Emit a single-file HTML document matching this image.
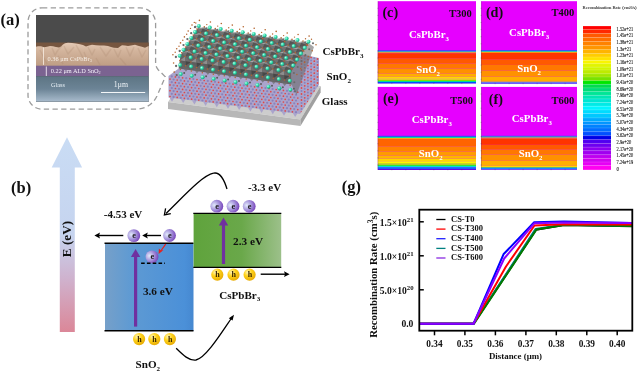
<!DOCTYPE html>
<html><head><meta charset="utf-8"><title>Figure</title>
<style>
html,body{margin:0;padding:0;background:#fff;}
body{width:637px;height:371px;overflow:hidden;position:relative;}
svg{position:absolute;left:0;top:0;display:block;}
text{font-family:'Liberation Serif','Times New Roman',serif;}
.b{font-weight:bold;}
</style></head><body>
<svg width="637" height="371" viewBox="0 0 637 371">
<defs>
<linearGradient id="gGlass" x1="0" y1="0" x2="0" y2="1">
 <stop offset="0" stop-color="#5d7584"/><stop offset="0.5" stop-color="#6c8496"/><stop offset="1" stop-color="#a9bccd"/>
</linearGradient>
<linearGradient id="gTan" x1="0" y1="0" x2="0" y2="1">
 <stop offset="0" stop-color="#e4cab6"/><stop offset="0.35" stop-color="#d3b49c"/><stop offset="1" stop-color="#be9d84"/>
</linearGradient>
<linearGradient id="gE" x1="0" y1="0" x2="0" y2="1">
 <stop offset="0" stop-color="#c9dcf4"/><stop offset="0.5" stop-color="#c6d4ef"/><stop offset="0.72" stop-color="#cfb3cf"/><stop offset="1" stop-color="#db8798"/>
</linearGradient>
<linearGradient id="gSn" x1="0" y1="0" x2="1" y2="0">
 <stop offset="0" stop-color="#76a0c9"/><stop offset="0.3" stop-color="#5e9ad3"/><stop offset="0.9" stop-color="#4b90d8"/><stop offset="1" stop-color="#4688d0"/>
</linearGradient>
<linearGradient id="gCs" x1="0" y1="0" x2="1" y2="0">
 <stop offset="0" stop-color="#5fa33c"/><stop offset="0.55" stop-color="#6aa84a"/><stop offset="1" stop-color="#9cc08a"/>
</linearGradient>
<radialGradient id="gEl" cx="0.3" cy="0.42" r="0.8">
 <stop offset="0" stop-color="#e2ebfb"/><stop offset="0.45" stop-color="#a796dc"/><stop offset="1" stop-color="#6b2fb2"/>
</radialGradient>
<radialGradient id="gHo" cx="0.35" cy="0.3" r="0.8">
 <stop offset="0" stop-color="#fff6b8"/><stop offset="0.4" stop-color="#ffd21a"/><stop offset="1" stop-color="#e3a400"/>
</radialGradient>
<radialGradient id="gCy" cx="0.35" cy="0.35" r="0.7">
 <stop offset="0" stop-color="#b8ffe8"/><stop offset="0.5" stop-color="#35dcae"/><stop offset="1" stop-color="#0f9e78"/>
</radialGradient>
<marker id="ah" markerWidth="6" markerHeight="6" refX="5" refY="3" orient="auto" markerUnits="userSpaceOnUse">
 <path d="M0,0 L6,3 L0,6 L1.5,3 Z" fill="#000"/>
</marker>
</defs>

<text class="b" x="0.6" y="24.8" font-size="16.5" fill="#111">(a)</text>
<g id="sem">
<rect x="36" y="15" width="112.7" height="87" fill="#4b4b4b"/>
<rect x="36" y="42.5" width="112.7" height="6" fill="#765640"/>
<path d="M36,66 L36,46.8 L38,46.2 L41,46.3 L44,47.2 L47,46.8 L50,46.0 L53,46.3 L56,47.0 L59,47.6 L61,46.5 L63,44.5 L65,43.2 L68,42.7 L72,43.0 L76,43.6 L80,44.2 L83,45.0 L86,46.6 L89,45.6 L92,44.8 L96,45.2 L100,45.5 L104,45.6 L108,46.0 L111,47.0 L114,47.8 L118,48.0 L120,46.5 L122,45.3 L125,45.5 L128,46.0 L131,45.4 L135,44.8 L138,45.8 L141,46.5 L145,47.8 L147,46.8 L148.7,46.0 L148.7,66 Z" fill="url(#gTan)"/>
<path d="M40,50 L44,58 L47,64" fill="none" stroke="#a07c62" stroke-opacity="0.2" stroke-width="1.5" stroke-linejoin="round"/>
<path d="M52,48 L55,55 L58,50 L62,46" fill="none" stroke="#a07c62" stroke-opacity="0.2" stroke-width="1.5" stroke-linejoin="round"/>
<path d="M64,46 L68,54 L74,47" fill="none" stroke="#a07c62" stroke-opacity="0.2" stroke-width="1.5" stroke-linejoin="round"/>
<path d="M76,45 L80,52 L84,60" fill="none" stroke="#a07c62" stroke-opacity="0.2" stroke-width="1.5" stroke-linejoin="round"/>
<path d="M88,47 L92,55 L95,49" fill="none" stroke="#a07c62" stroke-opacity="0.2" stroke-width="1.5" stroke-linejoin="round"/>
<path d="M100,47 L106,56 L111,49" fill="none" stroke="#a07c62" stroke-opacity="0.2" stroke-width="1.5" stroke-linejoin="round"/>
<path d="M114,49 L118,57 L121,50" fill="none" stroke="#a07c62" stroke-opacity="0.2" stroke-width="1.5" stroke-linejoin="round"/>
<path d="M126,47 L130,56 L134,47" fill="none" stroke="#a07c62" stroke-opacity="0.2" stroke-width="1.5" stroke-linejoin="round"/>
<path d="M138,48 L142,57 L146,50" fill="none" stroke="#a07c62" stroke-opacity="0.2" stroke-width="1.5" stroke-linejoin="round"/>
<path d="M58,56 L63,64" fill="none" stroke="#a07c62" stroke-opacity="0.2" stroke-width="1.5" stroke-linejoin="round"/>
<path d="M96,58 L100,65" fill="none" stroke="#a07c62" stroke-opacity="0.2" stroke-width="1.5" stroke-linejoin="round"/>
<path d="M120,58 L126,65" fill="none" stroke="#a07c62" stroke-opacity="0.2" stroke-width="1.5" stroke-linejoin="round"/>
<path d="M84,52 L88,62" fill="none" stroke="#a07c62" stroke-opacity="0.2" stroke-width="1.5" stroke-linejoin="round"/>
<rect x="36" y="65.7" width="112.7" height="10.6" fill="#7b6391"/>
<rect x="36" y="76.3" width="112.7" height="25.4" fill="url(#gGlass)"/>
<line x1="43.5" y1="47.4" x2="43.5" y2="64.9" stroke="#f3e7da" stroke-width="0.9"/>
<line x1="46.3" y1="66.5" x2="46.3" y2="76" stroke="#efe8f4" stroke-width="0.9"/>
<text x="47.6" y="61.1" font-size="6.3" fill="#f6eee6">0.36 μm CsPbBr<tspan font-size="4.2" dy="1">3</tspan></text>
<text x="50.8" y="73.4" font-size="6.3" fill="#f3eef8">0.22 μm ALD SnO<tspan font-size="4.2" dy="1">2</tspan></text>
<text x="51" y="87.2" font-size="6.3" fill="#e8f0f6">Glass</text>
<text x="113.8" y="87.4" font-size="7.8" fill="#eef3f7">1μm</text>
<line x1="101" y1="92.5" x2="145.2" y2="92.5" stroke="#f4f6f8" stroke-width="1"/>
</g>
<path d="M42,7.8 L140,7.8 A15.6,15.6 0 0 1 155.6,23.4 L155.6,64 Q156,67 158,69.5 L165.3,76.8 L157,96 Q153,104 146,107 Q141,109.2 136,109.2 L42,109.2 A14,14 0 0 1 28,95.2 L28,21.8 A14,14 0 0 1 42,7.8 Z" fill="none" stroke="#9c9c9c" stroke-width="1.3" stroke-dasharray="5.3 3.4"/>
<g id="crystal">
<polygon points="168,102 300.5,119.5 320.6,86 189,70" fill="#cdcdcd"/>
<polygon points="168,102 300.5,119.5 300.5,126 168,109" fill="#b7b7b7"/>
<polygon points="300.5,119.5 320.6,86 320.6,92.4 300.5,126" fill="#a0a0a0"/>
<polygon points="168.5,76 178.6,68.6 250,50 305,55 319,58 319,84.5 300,114 168.5,97.5" fill="#aaa4cc"/>
<polygon points="169.4,97.4 174.6,97.4 172.0,101.7" fill="#aaa4cc"/>
<polygon points="180.6,98.8 185.8,98.8 183.2,103.1" fill="#aaa4cc"/>
<polygon points="191.8,100.2 197.0,100.2 194.4,104.5" fill="#aaa4cc"/>
<polygon points="203.0,101.6 208.2,101.6 205.6,105.9" fill="#aaa4cc"/>
<polygon points="214.2,103.0 219.4,103.0 216.8,107.3" fill="#aaa4cc"/>
<polygon points="225.4,104.4 230.6,104.4 228.0,108.7" fill="#aaa4cc"/>
<polygon points="236.6,105.8 241.8,105.8 239.2,110.1" fill="#aaa4cc"/>
<polygon points="247.8,107.2 253.0,107.2 250.4,111.5" fill="#aaa4cc"/>
<polygon points="259.0,108.6 264.2,108.6 261.6,112.9" fill="#aaa4cc"/>
<polygon points="270.2,110.0 275.4,110.0 272.8,114.3" fill="#aaa4cc"/>
<polygon points="281.4,111.4 286.6,111.4 284.0,115.7" fill="#aaa4cc"/>
<polygon points="292.6,112.8 297.8,112.8 295.2,117.1" fill="#aaa4cc"/>
<circle cx="170.0" cy="96.5" r="0.85" fill="#e04848"/>
<circle cx="173.6" cy="96.9" r="1.1" fill="#8a82bd"/>
<circle cx="177.2" cy="97.4" r="0.85" fill="#e04848"/>
<circle cx="180.8" cy="97.8" r="1.1" fill="#8a82bd"/>
<circle cx="184.4" cy="98.3" r="0.85" fill="#e04848"/>
<circle cx="188.0" cy="98.7" r="1.1" fill="#8a82bd"/>
<circle cx="191.6" cy="99.2" r="0.85" fill="#e04848"/>
<circle cx="195.2" cy="99.6" r="1.1" fill="#8a82bd"/>
<circle cx="198.8" cy="100.1" r="0.85" fill="#e04848"/>
<circle cx="202.4" cy="100.5" r="1.1" fill="#8a82bd"/>
<circle cx="206.0" cy="101.0" r="0.85" fill="#e04848"/>
<circle cx="209.6" cy="101.4" r="1.1" fill="#8a82bd"/>
<circle cx="213.2" cy="101.9" r="0.85" fill="#e04848"/>
<circle cx="216.8" cy="102.3" r="1.1" fill="#8a82bd"/>
<circle cx="220.4" cy="102.8" r="0.85" fill="#e04848"/>
<circle cx="224.0" cy="103.2" r="1.1" fill="#8a82bd"/>
<circle cx="227.6" cy="103.7" r="0.85" fill="#e04848"/>
<circle cx="231.2" cy="104.1" r="1.1" fill="#8a82bd"/>
<circle cx="234.8" cy="104.6" r="0.85" fill="#e04848"/>
<circle cx="238.4" cy="105.0" r="1.1" fill="#8a82bd"/>
<circle cx="242.0" cy="105.5" r="0.85" fill="#e04848"/>
<circle cx="245.6" cy="105.9" r="1.1" fill="#8a82bd"/>
<circle cx="249.2" cy="106.4" r="0.85" fill="#e04848"/>
<circle cx="252.8" cy="106.8" r="1.1" fill="#8a82bd"/>
<circle cx="256.4" cy="107.3" r="0.85" fill="#e04848"/>
<circle cx="260.0" cy="107.7" r="1.1" fill="#8a82bd"/>
<circle cx="263.6" cy="108.2" r="0.85" fill="#e04848"/>
<circle cx="267.2" cy="108.6" r="1.1" fill="#8a82bd"/>
<circle cx="270.8" cy="109.1" r="0.85" fill="#e04848"/>
<circle cx="274.4" cy="109.5" r="1.1" fill="#8a82bd"/>
<circle cx="278.0" cy="110.0" r="0.85" fill="#e04848"/>
<circle cx="281.6" cy="110.4" r="1.1" fill="#8a82bd"/>
<circle cx="285.2" cy="110.9" r="0.85" fill="#e04848"/>
<circle cx="288.8" cy="111.3" r="1.1" fill="#8a82bd"/>
<circle cx="292.4" cy="111.8" r="0.85" fill="#e04848"/>
<circle cx="296.0" cy="112.2" r="1.1" fill="#8a82bd"/>
<circle cx="171.8" cy="93.8" r="1.1" fill="#8a82bd"/>
<circle cx="175.4" cy="94.3" r="0.85" fill="#e04848"/>
<circle cx="179.0" cy="94.7" r="1.1" fill="#8a82bd"/>
<circle cx="182.6" cy="95.2" r="0.85" fill="#e04848"/>
<circle cx="186.2" cy="95.6" r="1.1" fill="#8a82bd"/>
<circle cx="189.8" cy="96.1" r="0.85" fill="#e04848"/>
<circle cx="193.4" cy="96.5" r="1.1" fill="#8a82bd"/>
<circle cx="197.0" cy="97.0" r="0.85" fill="#e04848"/>
<circle cx="200.6" cy="97.4" r="1.1" fill="#8a82bd"/>
<circle cx="204.2" cy="97.9" r="0.85" fill="#e04848"/>
<circle cx="207.8" cy="98.3" r="1.1" fill="#8a82bd"/>
<circle cx="211.4" cy="98.8" r="0.85" fill="#e04848"/>
<circle cx="215.0" cy="99.2" r="1.1" fill="#8a82bd"/>
<circle cx="218.6" cy="99.7" r="0.85" fill="#e04848"/>
<circle cx="222.2" cy="100.1" r="1.1" fill="#8a82bd"/>
<circle cx="225.8" cy="100.6" r="0.85" fill="#e04848"/>
<circle cx="229.4" cy="101.0" r="1.1" fill="#8a82bd"/>
<circle cx="233.0" cy="101.5" r="0.85" fill="#e04848"/>
<circle cx="236.6" cy="101.9" r="1.1" fill="#8a82bd"/>
<circle cx="240.2" cy="102.4" r="0.85" fill="#e04848"/>
<circle cx="243.8" cy="102.8" r="1.1" fill="#8a82bd"/>
<circle cx="247.4" cy="103.3" r="0.85" fill="#e04848"/>
<circle cx="251.0" cy="103.7" r="1.1" fill="#8a82bd"/>
<circle cx="254.6" cy="104.2" r="0.85" fill="#e04848"/>
<circle cx="258.2" cy="104.6" r="1.1" fill="#8a82bd"/>
<circle cx="261.8" cy="105.1" r="0.85" fill="#e04848"/>
<circle cx="265.4" cy="105.5" r="1.1" fill="#8a82bd"/>
<circle cx="269.0" cy="106.0" r="0.85" fill="#e04848"/>
<circle cx="272.6" cy="106.4" r="1.1" fill="#8a82bd"/>
<circle cx="276.2" cy="106.9" r="0.85" fill="#e04848"/>
<circle cx="279.8" cy="107.3" r="1.1" fill="#8a82bd"/>
<circle cx="283.4" cy="107.8" r="0.85" fill="#e04848"/>
<circle cx="287.0" cy="108.2" r="1.1" fill="#8a82bd"/>
<circle cx="290.6" cy="108.7" r="0.85" fill="#e04848"/>
<circle cx="294.2" cy="109.1" r="1.1" fill="#8a82bd"/>
<circle cx="297.8" cy="109.6" r="0.85" fill="#e04848"/>
<circle cx="170.0" cy="90.7" r="0.85" fill="#e04848"/>
<circle cx="173.6" cy="91.1" r="1.1" fill="#8a82bd"/>
<circle cx="177.2" cy="91.6" r="0.85" fill="#e04848"/>
<circle cx="180.8" cy="92.0" r="1.1" fill="#8a82bd"/>
<circle cx="184.4" cy="92.5" r="0.85" fill="#e04848"/>
<circle cx="188.0" cy="92.9" r="1.1" fill="#8a82bd"/>
<circle cx="191.6" cy="93.4" r="0.85" fill="#e04848"/>
<circle cx="195.2" cy="93.8" r="1.1" fill="#8a82bd"/>
<circle cx="198.8" cy="94.3" r="0.85" fill="#e04848"/>
<circle cx="202.4" cy="94.7" r="1.1" fill="#8a82bd"/>
<circle cx="206.0" cy="95.2" r="0.85" fill="#e04848"/>
<circle cx="209.6" cy="95.6" r="1.1" fill="#8a82bd"/>
<circle cx="213.2" cy="96.1" r="0.85" fill="#e04848"/>
<circle cx="216.8" cy="96.5" r="1.1" fill="#8a82bd"/>
<circle cx="220.4" cy="97.0" r="0.85" fill="#e04848"/>
<circle cx="224.0" cy="97.4" r="1.1" fill="#8a82bd"/>
<circle cx="227.6" cy="97.9" r="0.85" fill="#e04848"/>
<circle cx="231.2" cy="98.3" r="1.1" fill="#8a82bd"/>
<circle cx="234.8" cy="98.8" r="0.85" fill="#e04848"/>
<circle cx="238.4" cy="99.2" r="1.1" fill="#8a82bd"/>
<circle cx="242.0" cy="99.7" r="0.85" fill="#e04848"/>
<circle cx="245.6" cy="100.1" r="1.1" fill="#8a82bd"/>
<circle cx="249.2" cy="100.6" r="0.85" fill="#e04848"/>
<circle cx="252.8" cy="101.0" r="1.1" fill="#8a82bd"/>
<circle cx="256.4" cy="101.5" r="0.85" fill="#e04848"/>
<circle cx="260.0" cy="101.9" r="1.1" fill="#8a82bd"/>
<circle cx="263.6" cy="102.4" r="0.85" fill="#e04848"/>
<circle cx="267.2" cy="102.8" r="1.1" fill="#8a82bd"/>
<circle cx="270.8" cy="103.3" r="0.85" fill="#e04848"/>
<circle cx="274.4" cy="103.7" r="1.1" fill="#8a82bd"/>
<circle cx="278.0" cy="104.2" r="0.85" fill="#e04848"/>
<circle cx="281.6" cy="104.6" r="1.1" fill="#8a82bd"/>
<circle cx="285.2" cy="105.1" r="0.85" fill="#e04848"/>
<circle cx="288.8" cy="105.5" r="1.1" fill="#8a82bd"/>
<circle cx="292.4" cy="106.0" r="0.85" fill="#e04848"/>
<circle cx="296.0" cy="106.4" r="1.1" fill="#8a82bd"/>
<circle cx="171.8" cy="88.0" r="1.1" fill="#8a82bd"/>
<circle cx="175.4" cy="88.5" r="0.85" fill="#e04848"/>
<circle cx="179.0" cy="88.9" r="1.1" fill="#8a82bd"/>
<circle cx="182.6" cy="89.4" r="0.85" fill="#e04848"/>
<circle cx="186.2" cy="89.8" r="1.1" fill="#8a82bd"/>
<circle cx="189.8" cy="90.3" r="0.85" fill="#e04848"/>
<circle cx="193.4" cy="90.7" r="1.1" fill="#8a82bd"/>
<circle cx="197.0" cy="91.2" r="0.85" fill="#e04848"/>
<circle cx="200.6" cy="91.6" r="1.1" fill="#8a82bd"/>
<circle cx="204.2" cy="92.1" r="0.85" fill="#e04848"/>
<circle cx="207.8" cy="92.5" r="1.1" fill="#8a82bd"/>
<circle cx="211.4" cy="93.0" r="0.85" fill="#e04848"/>
<circle cx="215.0" cy="93.4" r="1.1" fill="#8a82bd"/>
<circle cx="218.6" cy="93.9" r="0.85" fill="#e04848"/>
<circle cx="222.2" cy="94.3" r="1.1" fill="#8a82bd"/>
<circle cx="225.8" cy="94.8" r="0.85" fill="#e04848"/>
<circle cx="229.4" cy="95.2" r="1.1" fill="#8a82bd"/>
<circle cx="233.0" cy="95.7" r="0.85" fill="#e04848"/>
<circle cx="236.6" cy="96.1" r="1.1" fill="#8a82bd"/>
<circle cx="240.2" cy="96.6" r="0.85" fill="#e04848"/>
<circle cx="243.8" cy="97.0" r="1.1" fill="#8a82bd"/>
<circle cx="247.4" cy="97.5" r="0.85" fill="#e04848"/>
<circle cx="251.0" cy="97.9" r="1.1" fill="#8a82bd"/>
<circle cx="254.6" cy="98.4" r="0.85" fill="#e04848"/>
<circle cx="258.2" cy="98.8" r="1.1" fill="#8a82bd"/>
<circle cx="261.8" cy="99.3" r="0.85" fill="#e04848"/>
<circle cx="265.4" cy="99.7" r="1.1" fill="#8a82bd"/>
<circle cx="269.0" cy="100.2" r="0.85" fill="#e04848"/>
<circle cx="272.6" cy="100.6" r="1.1" fill="#8a82bd"/>
<circle cx="276.2" cy="101.1" r="0.85" fill="#e04848"/>
<circle cx="279.8" cy="101.5" r="1.1" fill="#8a82bd"/>
<circle cx="283.4" cy="102.0" r="0.85" fill="#e04848"/>
<circle cx="287.0" cy="102.4" r="1.1" fill="#8a82bd"/>
<circle cx="290.6" cy="102.9" r="0.85" fill="#e04848"/>
<circle cx="294.2" cy="103.3" r="1.1" fill="#8a82bd"/>
<circle cx="297.8" cy="103.8" r="0.85" fill="#e04848"/>
<circle cx="170.0" cy="84.9" r="0.85" fill="#e04848"/>
<circle cx="173.6" cy="85.3" r="1.1" fill="#8a82bd"/>
<circle cx="177.2" cy="85.8" r="0.85" fill="#e04848"/>
<circle cx="180.8" cy="86.2" r="1.1" fill="#8a82bd"/>
<circle cx="184.4" cy="86.7" r="0.85" fill="#e04848"/>
<circle cx="188.0" cy="87.1" r="1.1" fill="#8a82bd"/>
<circle cx="191.6" cy="87.6" r="0.85" fill="#e04848"/>
<circle cx="195.2" cy="88.0" r="1.1" fill="#8a82bd"/>
<circle cx="198.8" cy="88.5" r="0.85" fill="#e04848"/>
<circle cx="202.4" cy="88.9" r="1.1" fill="#8a82bd"/>
<circle cx="206.0" cy="89.4" r="0.85" fill="#e04848"/>
<circle cx="209.6" cy="89.8" r="1.1" fill="#8a82bd"/>
<circle cx="213.2" cy="90.3" r="0.85" fill="#e04848"/>
<circle cx="216.8" cy="90.7" r="1.1" fill="#8a82bd"/>
<circle cx="220.4" cy="91.2" r="0.85" fill="#e04848"/>
<circle cx="224.0" cy="91.6" r="1.1" fill="#8a82bd"/>
<circle cx="227.6" cy="92.1" r="0.85" fill="#e04848"/>
<circle cx="231.2" cy="92.5" r="1.1" fill="#8a82bd"/>
<circle cx="234.8" cy="93.0" r="0.85" fill="#e04848"/>
<circle cx="238.4" cy="93.4" r="1.1" fill="#8a82bd"/>
<circle cx="242.0" cy="93.9" r="0.85" fill="#e04848"/>
<circle cx="245.6" cy="94.3" r="1.1" fill="#8a82bd"/>
<circle cx="249.2" cy="94.8" r="0.85" fill="#e04848"/>
<circle cx="252.8" cy="95.2" r="1.1" fill="#8a82bd"/>
<circle cx="256.4" cy="95.7" r="0.85" fill="#e04848"/>
<circle cx="260.0" cy="96.1" r="1.1" fill="#8a82bd"/>
<circle cx="263.6" cy="96.6" r="0.85" fill="#e04848"/>
<circle cx="267.2" cy="97.0" r="1.1" fill="#8a82bd"/>
<circle cx="270.8" cy="97.5" r="0.85" fill="#e04848"/>
<circle cx="274.4" cy="97.9" r="1.1" fill="#8a82bd"/>
<circle cx="278.0" cy="98.4" r="0.85" fill="#e04848"/>
<circle cx="281.6" cy="98.8" r="1.1" fill="#8a82bd"/>
<circle cx="285.2" cy="99.3" r="0.85" fill="#e04848"/>
<circle cx="288.8" cy="99.7" r="1.1" fill="#8a82bd"/>
<circle cx="292.4" cy="100.2" r="0.85" fill="#e04848"/>
<circle cx="296.0" cy="100.6" r="1.1" fill="#8a82bd"/>
<circle cx="171.8" cy="82.2" r="1.1" fill="#8a82bd"/>
<circle cx="175.4" cy="82.7" r="0.85" fill="#e04848"/>
<circle cx="179.0" cy="83.1" r="1.1" fill="#8a82bd"/>
<circle cx="182.6" cy="83.6" r="0.85" fill="#e04848"/>
<circle cx="186.2" cy="84.0" r="1.1" fill="#8a82bd"/>
<circle cx="189.8" cy="84.5" r="0.85" fill="#e04848"/>
<circle cx="193.4" cy="84.9" r="1.1" fill="#8a82bd"/>
<circle cx="197.0" cy="85.4" r="0.85" fill="#e04848"/>
<circle cx="200.6" cy="85.8" r="1.1" fill="#8a82bd"/>
<circle cx="204.2" cy="86.3" r="0.85" fill="#e04848"/>
<circle cx="207.8" cy="86.7" r="1.1" fill="#8a82bd"/>
<circle cx="211.4" cy="87.2" r="0.85" fill="#e04848"/>
<circle cx="215.0" cy="87.6" r="1.1" fill="#8a82bd"/>
<circle cx="218.6" cy="88.1" r="0.85" fill="#e04848"/>
<circle cx="222.2" cy="88.5" r="1.1" fill="#8a82bd"/>
<circle cx="225.8" cy="89.0" r="0.85" fill="#e04848"/>
<circle cx="229.4" cy="89.4" r="1.1" fill="#8a82bd"/>
<circle cx="233.0" cy="89.9" r="0.85" fill="#e04848"/>
<circle cx="236.6" cy="90.3" r="1.1" fill="#8a82bd"/>
<circle cx="240.2" cy="90.8" r="0.85" fill="#e04848"/>
<circle cx="243.8" cy="91.2" r="1.1" fill="#8a82bd"/>
<circle cx="247.4" cy="91.7" r="0.85" fill="#e04848"/>
<circle cx="251.0" cy="92.1" r="1.1" fill="#8a82bd"/>
<circle cx="254.6" cy="92.6" r="0.85" fill="#e04848"/>
<circle cx="258.2" cy="93.0" r="1.1" fill="#8a82bd"/>
<circle cx="261.8" cy="93.5" r="0.85" fill="#e04848"/>
<circle cx="265.4" cy="93.9" r="1.1" fill="#8a82bd"/>
<circle cx="269.0" cy="94.4" r="0.85" fill="#e04848"/>
<circle cx="272.6" cy="94.8" r="1.1" fill="#8a82bd"/>
<circle cx="276.2" cy="95.3" r="0.85" fill="#e04848"/>
<circle cx="279.8" cy="95.7" r="1.1" fill="#8a82bd"/>
<circle cx="283.4" cy="96.2" r="0.85" fill="#e04848"/>
<circle cx="287.0" cy="96.6" r="1.1" fill="#8a82bd"/>
<circle cx="290.6" cy="97.1" r="0.85" fill="#e04848"/>
<circle cx="294.2" cy="97.5" r="1.1" fill="#8a82bd"/>
<circle cx="297.8" cy="98.0" r="0.85" fill="#e04848"/>
<circle cx="170.0" cy="79.1" r="0.85" fill="#e04848"/>
<circle cx="173.6" cy="79.5" r="1.1" fill="#8a82bd"/>
<circle cx="177.2" cy="80.0" r="0.85" fill="#e04848"/>
<circle cx="180.8" cy="80.4" r="1.1" fill="#8a82bd"/>
<circle cx="184.4" cy="80.9" r="0.85" fill="#e04848"/>
<circle cx="188.0" cy="81.3" r="1.1" fill="#8a82bd"/>
<circle cx="191.6" cy="81.8" r="0.85" fill="#e04848"/>
<circle cx="195.2" cy="82.2" r="1.1" fill="#8a82bd"/>
<circle cx="198.8" cy="82.7" r="0.85" fill="#e04848"/>
<circle cx="202.4" cy="83.1" r="1.1" fill="#8a82bd"/>
<circle cx="206.0" cy="83.6" r="0.85" fill="#e04848"/>
<circle cx="209.6" cy="84.0" r="1.1" fill="#8a82bd"/>
<circle cx="213.2" cy="84.5" r="0.85" fill="#e04848"/>
<circle cx="216.8" cy="84.9" r="1.1" fill="#8a82bd"/>
<circle cx="220.4" cy="85.4" r="0.85" fill="#e04848"/>
<circle cx="224.0" cy="85.8" r="1.1" fill="#8a82bd"/>
<circle cx="227.6" cy="86.3" r="0.85" fill="#e04848"/>
<circle cx="231.2" cy="86.7" r="1.1" fill="#8a82bd"/>
<circle cx="234.8" cy="87.2" r="0.85" fill="#e04848"/>
<circle cx="238.4" cy="87.6" r="1.1" fill="#8a82bd"/>
<circle cx="242.0" cy="88.1" r="0.85" fill="#e04848"/>
<circle cx="245.6" cy="88.5" r="1.1" fill="#8a82bd"/>
<circle cx="249.2" cy="89.0" r="0.85" fill="#e04848"/>
<circle cx="252.8" cy="89.4" r="1.1" fill="#8a82bd"/>
<circle cx="256.4" cy="89.9" r="0.85" fill="#e04848"/>
<circle cx="260.0" cy="90.3" r="1.1" fill="#8a82bd"/>
<circle cx="263.6" cy="90.8" r="0.85" fill="#e04848"/>
<circle cx="267.2" cy="91.2" r="1.1" fill="#8a82bd"/>
<circle cx="270.8" cy="91.7" r="0.85" fill="#e04848"/>
<circle cx="274.4" cy="92.1" r="1.1" fill="#8a82bd"/>
<circle cx="278.0" cy="92.6" r="0.85" fill="#e04848"/>
<circle cx="281.6" cy="93.0" r="1.1" fill="#8a82bd"/>
<circle cx="285.2" cy="93.5" r="0.85" fill="#e04848"/>
<circle cx="288.8" cy="93.9" r="1.1" fill="#8a82bd"/>
<circle cx="292.4" cy="94.4" r="0.85" fill="#e04848"/>
<circle cx="296.0" cy="94.8" r="1.1" fill="#8a82bd"/>
<circle cx="171.8" cy="76.4" r="1.1" fill="#8a82bd"/>
<circle cx="175.4" cy="76.9" r="0.85" fill="#e04848"/>
<circle cx="179.0" cy="77.3" r="1.1" fill="#8a82bd"/>
<circle cx="182.6" cy="77.8" r="0.85" fill="#e04848"/>
<circle cx="186.2" cy="78.2" r="1.1" fill="#8a82bd"/>
<circle cx="189.8" cy="78.7" r="0.85" fill="#e04848"/>
<circle cx="193.4" cy="79.1" r="1.1" fill="#8a82bd"/>
<circle cx="197.0" cy="79.6" r="0.85" fill="#e04848"/>
<circle cx="200.6" cy="80.0" r="1.1" fill="#8a82bd"/>
<circle cx="204.2" cy="80.5" r="0.85" fill="#e04848"/>
<circle cx="207.8" cy="80.9" r="1.1" fill="#8a82bd"/>
<circle cx="211.4" cy="81.4" r="0.85" fill="#e04848"/>
<circle cx="215.0" cy="81.8" r="1.1" fill="#8a82bd"/>
<circle cx="218.6" cy="82.3" r="0.85" fill="#e04848"/>
<circle cx="222.2" cy="82.7" r="1.1" fill="#8a82bd"/>
<circle cx="225.8" cy="83.2" r="0.85" fill="#e04848"/>
<circle cx="229.4" cy="83.6" r="1.1" fill="#8a82bd"/>
<circle cx="233.0" cy="84.1" r="0.85" fill="#e04848"/>
<circle cx="236.6" cy="84.5" r="1.1" fill="#8a82bd"/>
<circle cx="240.2" cy="85.0" r="0.85" fill="#e04848"/>
<circle cx="243.8" cy="85.4" r="1.1" fill="#8a82bd"/>
<circle cx="247.4" cy="85.9" r="0.85" fill="#e04848"/>
<circle cx="251.0" cy="86.3" r="1.1" fill="#8a82bd"/>
<circle cx="254.6" cy="86.8" r="0.85" fill="#e04848"/>
<circle cx="258.2" cy="87.2" r="1.1" fill="#8a82bd"/>
<circle cx="261.8" cy="87.7" r="0.85" fill="#e04848"/>
<circle cx="265.4" cy="88.1" r="1.1" fill="#8a82bd"/>
<circle cx="269.0" cy="88.6" r="0.85" fill="#e04848"/>
<circle cx="272.6" cy="89.0" r="1.1" fill="#8a82bd"/>
<circle cx="276.2" cy="89.5" r="0.85" fill="#e04848"/>
<circle cx="279.8" cy="89.9" r="1.1" fill="#8a82bd"/>
<circle cx="283.4" cy="90.4" r="0.85" fill="#e04848"/>
<circle cx="287.0" cy="90.8" r="1.1" fill="#8a82bd"/>
<circle cx="290.6" cy="91.3" r="0.85" fill="#e04848"/>
<circle cx="294.2" cy="91.7" r="1.1" fill="#8a82bd"/>
<circle cx="297.8" cy="92.2" r="0.85" fill="#e04848"/>
<clipPath id="snclip"><polygon points="168.5,76 178.6,68.6 250,50 305,55 319,58 319,84.5 300,114 168.5,97.5"/></clipPath>
<g clip-path="url(#snclip)">
<circle cx="301.5" cy="112.0" r="0.9" fill="#e04848"/>
<circle cx="304.7" cy="106.8" r="1.0" fill="#8a82bd"/>
<circle cx="307.9" cy="101.6" r="0.9" fill="#e04848"/>
<circle cx="311.1" cy="96.4" r="1.0" fill="#8a82bd"/>
<circle cx="314.3" cy="91.2" r="0.9" fill="#e04848"/>
<circle cx="317.5" cy="86.0" r="1.0" fill="#8a82bd"/>
<circle cx="301.5" cy="109.0" r="1.0" fill="#8a82bd"/>
<circle cx="304.7" cy="103.8" r="0.9" fill="#e04848"/>
<circle cx="307.9" cy="98.6" r="1.0" fill="#8a82bd"/>
<circle cx="311.1" cy="93.4" r="0.9" fill="#e04848"/>
<circle cx="314.3" cy="88.2" r="1.0" fill="#8a82bd"/>
<circle cx="317.5" cy="83.0" r="0.9" fill="#e04848"/>
<circle cx="301.5" cy="106.0" r="0.9" fill="#e04848"/>
<circle cx="304.7" cy="100.8" r="1.0" fill="#8a82bd"/>
<circle cx="307.9" cy="95.6" r="0.9" fill="#e04848"/>
<circle cx="311.1" cy="90.4" r="1.0" fill="#8a82bd"/>
<circle cx="314.3" cy="85.2" r="0.9" fill="#e04848"/>
<circle cx="317.5" cy="80.0" r="1.0" fill="#8a82bd"/>
<circle cx="301.5" cy="103.0" r="1.0" fill="#8a82bd"/>
<circle cx="304.7" cy="97.8" r="0.9" fill="#e04848"/>
<circle cx="307.9" cy="92.6" r="1.0" fill="#8a82bd"/>
<circle cx="311.1" cy="87.4" r="0.9" fill="#e04848"/>
<circle cx="314.3" cy="82.2" r="1.0" fill="#8a82bd"/>
<circle cx="317.5" cy="77.0" r="0.9" fill="#e04848"/>
<circle cx="301.5" cy="100.0" r="0.9" fill="#e04848"/>
<circle cx="304.7" cy="94.8" r="1.0" fill="#8a82bd"/>
<circle cx="307.9" cy="89.6" r="0.9" fill="#e04848"/>
<circle cx="311.1" cy="84.4" r="1.0" fill="#8a82bd"/>
<circle cx="314.3" cy="79.2" r="0.9" fill="#e04848"/>
<circle cx="317.5" cy="74.0" r="1.0" fill="#8a82bd"/>
<circle cx="301.5" cy="97.0" r="1.0" fill="#8a82bd"/>
<circle cx="304.7" cy="91.8" r="0.9" fill="#e04848"/>
<circle cx="307.9" cy="86.6" r="1.0" fill="#8a82bd"/>
<circle cx="311.1" cy="81.4" r="0.9" fill="#e04848"/>
<circle cx="314.3" cy="76.2" r="1.0" fill="#8a82bd"/>
<circle cx="317.5" cy="71.0" r="0.9" fill="#e04848"/>
<circle cx="301.5" cy="94.0" r="0.9" fill="#e04848"/>
<circle cx="304.7" cy="88.8" r="1.0" fill="#8a82bd"/>
<circle cx="307.9" cy="83.6" r="0.9" fill="#e04848"/>
<circle cx="311.1" cy="78.4" r="1.0" fill="#8a82bd"/>
<circle cx="314.3" cy="73.2" r="0.9" fill="#e04848"/>
<circle cx="317.5" cy="68.0" r="1.0" fill="#8a82bd"/>
<circle cx="301.5" cy="91.0" r="1.0" fill="#8a82bd"/>
<circle cx="304.7" cy="85.8" r="0.9" fill="#e04848"/>
<circle cx="307.9" cy="80.6" r="1.0" fill="#8a82bd"/>
<circle cx="311.1" cy="75.4" r="0.9" fill="#e04848"/>
<circle cx="314.3" cy="70.2" r="1.0" fill="#8a82bd"/>
<circle cx="317.5" cy="65.0" r="0.9" fill="#e04848"/>
<circle cx="301.5" cy="88.0" r="0.9" fill="#e04848"/>
<circle cx="304.7" cy="82.8" r="1.0" fill="#8a82bd"/>
<circle cx="307.9" cy="77.6" r="0.9" fill="#e04848"/>
<circle cx="311.1" cy="72.4" r="1.0" fill="#8a82bd"/>
<circle cx="314.3" cy="67.2" r="0.9" fill="#e04848"/>
<circle cx="317.5" cy="62.0" r="1.0" fill="#8a82bd"/>
<circle cx="301.5" cy="85.0" r="1.0" fill="#8a82bd"/>
<circle cx="304.7" cy="79.8" r="0.9" fill="#e04848"/>
<circle cx="307.9" cy="74.6" r="1.0" fill="#8a82bd"/>
<circle cx="311.1" cy="69.4" r="0.9" fill="#e04848"/>
<circle cx="314.3" cy="64.2" r="1.0" fill="#8a82bd"/>
<circle cx="317.5" cy="59.0" r="0.9" fill="#e04848"/>
<circle cx="301.5" cy="82.0" r="0.9" fill="#e04848"/>
<circle cx="304.7" cy="76.8" r="1.0" fill="#8a82bd"/>
<circle cx="307.9" cy="71.6" r="0.9" fill="#e04848"/>
<circle cx="311.1" cy="66.4" r="1.0" fill="#8a82bd"/>
<circle cx="314.3" cy="61.2" r="0.9" fill="#e04848"/>
<circle cx="317.5" cy="56.0" r="1.0" fill="#8a82bd"/>
<circle cx="301.5" cy="79.0" r="1.0" fill="#8a82bd"/>
<circle cx="304.7" cy="73.8" r="0.9" fill="#e04848"/>
<circle cx="307.9" cy="68.6" r="1.0" fill="#8a82bd"/>
<circle cx="311.1" cy="63.4" r="0.9" fill="#e04848"/>
<circle cx="314.3" cy="58.2" r="1.0" fill="#8a82bd"/>
<circle cx="317.5" cy="53.0" r="0.9" fill="#e04848"/>
<circle cx="301.5" cy="76.0" r="0.9" fill="#e04848"/>
<circle cx="304.7" cy="70.8" r="1.0" fill="#8a82bd"/>
<circle cx="307.9" cy="65.6" r="0.9" fill="#e04848"/>
<circle cx="311.1" cy="60.4" r="1.0" fill="#8a82bd"/>
<circle cx="314.3" cy="55.2" r="0.9" fill="#e04848"/>
<circle cx="301.5" cy="73.0" r="1.0" fill="#8a82bd"/>
<circle cx="304.7" cy="67.8" r="0.9" fill="#e04848"/>
<circle cx="307.9" cy="62.6" r="1.0" fill="#8a82bd"/>
<circle cx="311.1" cy="57.4" r="0.9" fill="#e04848"/>
<circle cx="314.3" cy="52.2" r="1.0" fill="#8a82bd"/>
<circle cx="301.5" cy="70.0" r="0.9" fill="#e04848"/>
<circle cx="304.7" cy="64.8" r="1.0" fill="#8a82bd"/>
<circle cx="307.9" cy="59.6" r="0.9" fill="#e04848"/>
<circle cx="311.1" cy="54.4" r="1.0" fill="#8a82bd"/>
<circle cx="301.5" cy="67.0" r="1.0" fill="#8a82bd"/>
<circle cx="304.7" cy="61.8" r="0.9" fill="#e04848"/>
<circle cx="307.9" cy="56.6" r="1.0" fill="#8a82bd"/>
<circle cx="301.5" cy="64.0" r="0.9" fill="#e04848"/>
<circle cx="304.7" cy="58.8" r="1.0" fill="#8a82bd"/>
<circle cx="307.9" cy="53.6" r="0.9" fill="#e04848"/>
<circle cx="301.5" cy="61.0" r="1.0" fill="#8a82bd"/>
<circle cx="304.7" cy="55.8" r="0.9" fill="#e04848"/>
<circle cx="301.5" cy="58.0" r="0.9" fill="#e04848"/>
<circle cx="304.7" cy="52.8" r="1.0" fill="#8a82bd"/>
<circle cx="301.5" cy="55.0" r="1.0" fill="#8a82bd"/>
</g>
<polygon points="198.2,27.5 308.8,43.2 291.3,71.8 291.6,84.5 178.6,68.6 180.5,55.5" fill="#646464"/>
<polygon points="308.8,43.2 314,47 296.5,95 291.6,84.5 291.3,71.8" fill="#6c6c6c" fill-opacity="0.6"/>
<polygon points="196.9,29.0 204.3,26.8 202.4,28.8" fill="#a8a8a8"/>
<polygon points="204.3,26.8 207.9,30.6 202.4,28.8" fill="#868686"/>
<polygon points="207.9,30.6 200.5,32.7 202.4,28.8" fill="#555555"/>
<polygon points="200.5,32.7 196.9,29.0 202.4,28.8" fill="#727272"/>
<polygon points="207.9,30.6 215.3,28.4 213.3,30.3" fill="#a8a8a8"/>
<polygon points="215.3,28.4 218.8,32.1 213.3,30.3" fill="#868686"/>
<polygon points="218.8,32.1 211.4,34.3 213.3,30.3" fill="#555555"/>
<polygon points="211.4,34.3 207.9,30.6 213.3,30.3" fill="#727272"/>
<polygon points="218.8,32.1 226.2,29.9 224.3,31.9" fill="#a8a8a8"/>
<polygon points="226.2,29.9 229.8,33.7 224.3,31.9" fill="#868686"/>
<polygon points="229.8,33.7 222.4,35.9 224.3,31.9" fill="#555555"/>
<polygon points="222.4,35.9 218.8,32.1 224.3,31.9" fill="#727272"/>
<polygon points="229.8,33.7 237.2,31.5 235.3,33.5" fill="#a8a8a8"/>
<polygon points="237.2,31.5 240.8,35.3 235.3,33.5" fill="#868686"/>
<polygon points="240.8,35.3 233.4,37.5 235.3,33.5" fill="#555555"/>
<polygon points="233.4,37.5 229.8,33.7 235.3,33.5" fill="#727272"/>
<polygon points="240.8,35.3 248.2,33.1 246.3,35.0" fill="#a8a8a8"/>
<polygon points="248.2,33.1 251.7,36.8 246.3,35.0" fill="#868686"/>
<polygon points="251.7,36.8 244.3,39.0 246.3,35.0" fill="#555555"/>
<polygon points="244.3,39.0 240.8,35.3 246.3,35.0" fill="#727272"/>
<polygon points="251.7,36.8 259.1,34.6 257.2,36.6" fill="#a8a8a8"/>
<polygon points="259.1,34.6 262.7,38.4 257.2,36.6" fill="#868686"/>
<polygon points="262.7,38.4 255.3,40.6 257.2,36.6" fill="#555555"/>
<polygon points="255.3,40.6 251.7,36.8 257.2,36.6" fill="#727272"/>
<polygon points="262.7,38.4 270.1,36.2 268.2,38.2" fill="#a8a8a8"/>
<polygon points="270.1,36.2 273.7,40.0 268.2,38.2" fill="#868686"/>
<polygon points="273.7,40.0 266.3,42.2 268.2,38.2" fill="#555555"/>
<polygon points="266.3,42.2 262.7,38.4 268.2,38.2" fill="#727272"/>
<polygon points="273.7,40.0 281.1,37.8 279.2,39.8" fill="#a8a8a8"/>
<polygon points="281.1,37.8 284.6,41.5 279.2,39.8" fill="#868686"/>
<polygon points="284.6,41.5 277.3,43.7 279.2,39.8" fill="#555555"/>
<polygon points="277.3,43.7 273.7,40.0 279.2,39.8" fill="#727272"/>
<polygon points="284.6,41.5 292.0,39.3 290.1,41.3" fill="#a8a8a8"/>
<polygon points="292.0,39.3 295.6,43.1 290.1,41.3" fill="#868686"/>
<polygon points="295.6,43.1 288.2,45.3 290.1,41.3" fill="#555555"/>
<polygon points="288.2,45.3 284.6,41.5 290.1,41.3" fill="#727272"/>
<polygon points="295.6,43.1 303.0,40.9 301.1,42.9" fill="#a8a8a8"/>
<polygon points="303.0,40.9 306.6,44.7 301.1,42.9" fill="#868686"/>
<polygon points="306.6,44.7 299.2,46.9 301.1,42.9" fill="#555555"/>
<polygon points="299.2,46.9 295.6,43.1 301.1,42.9" fill="#727272"/>
<polygon points="193.1,34.9 200.5,32.7 198.6,34.7" fill="#a8a8a8"/>
<polygon points="200.5,32.7 204.0,36.5 198.6,34.7" fill="#868686"/>
<polygon points="204.0,36.5 196.6,38.7 198.6,34.7" fill="#555555"/>
<polygon points="196.6,38.7 193.1,34.9 198.6,34.7" fill="#727272"/>
<polygon points="204.0,36.5 211.4,34.3 209.5,36.3" fill="#a8a8a8"/>
<polygon points="211.4,34.3 215.0,38.1 209.5,36.3" fill="#868686"/>
<polygon points="215.0,38.1 207.6,40.3 209.5,36.3" fill="#555555"/>
<polygon points="207.6,40.3 204.0,36.5 209.5,36.3" fill="#727272"/>
<polygon points="215.0,38.1 222.4,35.9 220.5,37.9" fill="#a8a8a8"/>
<polygon points="222.4,35.9 226.0,39.6 220.5,37.9" fill="#868686"/>
<polygon points="226.0,39.6 218.6,41.8 220.5,37.9" fill="#555555"/>
<polygon points="218.6,41.8 215.0,38.1 220.5,37.9" fill="#727272"/>
<polygon points="226.0,39.6 233.4,37.5 231.5,39.4" fill="#a8a8a8"/>
<polygon points="233.4,37.5 236.9,41.2 231.5,39.4" fill="#868686"/>
<polygon points="236.9,41.2 229.6,43.4 231.5,39.4" fill="#555555"/>
<polygon points="229.6,43.4 226.0,39.6 231.5,39.4" fill="#727272"/>
<polygon points="236.9,41.2 244.3,39.0 242.4,41.0" fill="#a8a8a8"/>
<polygon points="244.3,39.0 247.9,42.8 242.4,41.0" fill="#868686"/>
<polygon points="247.9,42.8 240.5,45.0 242.4,41.0" fill="#555555"/>
<polygon points="240.5,45.0 236.9,41.2 242.4,41.0" fill="#727272"/>
<polygon points="247.9,42.8 255.3,40.6 253.4,42.6" fill="#a8a8a8"/>
<polygon points="255.3,40.6 258.9,44.4 253.4,42.6" fill="#868686"/>
<polygon points="258.9,44.4 251.5,46.6 253.4,42.6" fill="#555555"/>
<polygon points="251.5,46.6 247.9,42.8 253.4,42.6" fill="#727272"/>
<polygon points="258.9,44.4 266.3,42.2 264.4,44.1" fill="#a8a8a8"/>
<polygon points="266.3,42.2 269.9,45.9 264.4,44.1" fill="#868686"/>
<polygon points="269.9,45.9 262.5,48.1 264.4,44.1" fill="#555555"/>
<polygon points="262.5,48.1 258.9,44.4 264.4,44.1" fill="#727272"/>
<polygon points="269.9,45.9 277.3,43.7 275.3,45.7" fill="#a8a8a8"/>
<polygon points="277.3,43.7 280.8,47.5 275.3,45.7" fill="#868686"/>
<polygon points="280.8,47.5 273.4,49.7 275.3,45.7" fill="#555555"/>
<polygon points="273.4,49.7 269.9,45.9 275.3,45.7" fill="#727272"/>
<polygon points="280.8,47.5 288.2,45.3 286.3,47.3" fill="#a8a8a8"/>
<polygon points="288.2,45.3 291.8,49.1 286.3,47.3" fill="#868686"/>
<polygon points="291.8,49.1 284.4,51.3 286.3,47.3" fill="#555555"/>
<polygon points="284.4,51.3 280.8,47.5 286.3,47.3" fill="#727272"/>
<polygon points="291.8,49.1 299.2,46.9 297.3,48.9" fill="#a8a8a8"/>
<polygon points="299.2,46.9 302.8,50.6 297.3,48.9" fill="#868686"/>
<polygon points="302.8,50.6 295.4,52.8 297.3,48.9" fill="#555555"/>
<polygon points="295.4,52.8 291.8,49.1 297.3,48.9" fill="#727272"/>
<polygon points="189.2,40.9 196.6,38.7 194.7,40.7" fill="#a8a8a8"/>
<polygon points="196.6,38.7 200.2,42.5 194.7,40.7" fill="#868686"/>
<polygon points="200.2,42.5 192.8,44.7 194.7,40.7" fill="#555555"/>
<polygon points="192.8,44.7 189.2,40.9 194.7,40.7" fill="#727272"/>
<polygon points="200.2,42.5 207.6,40.3 205.7,42.3" fill="#a8a8a8"/>
<polygon points="207.6,40.3 211.2,44.0 205.7,42.3" fill="#868686"/>
<polygon points="211.2,44.0 203.8,46.2 205.7,42.3" fill="#555555"/>
<polygon points="203.8,46.2 200.2,42.5 205.7,42.3" fill="#727272"/>
<polygon points="211.2,44.0 218.6,41.8 216.7,43.8" fill="#a8a8a8"/>
<polygon points="218.6,41.8 222.2,45.6 216.7,43.8" fill="#868686"/>
<polygon points="222.2,45.6 214.8,47.8 216.7,43.8" fill="#555555"/>
<polygon points="214.8,47.8 211.2,44.0 216.7,43.8" fill="#727272"/>
<polygon points="222.2,45.6 229.6,43.4 227.6,45.4" fill="#a8a8a8"/>
<polygon points="229.6,43.4 233.1,47.2 227.6,45.4" fill="#868686"/>
<polygon points="233.1,47.2 225.7,49.4 227.6,45.4" fill="#555555"/>
<polygon points="225.7,49.4 222.2,45.6 227.6,45.4" fill="#727272"/>
<polygon points="233.1,47.2 240.5,45.0 238.6,47.0" fill="#a8a8a8"/>
<polygon points="240.5,45.0 244.1,48.8 238.6,47.0" fill="#868686"/>
<polygon points="244.1,48.8 236.7,50.9 238.6,47.0" fill="#555555"/>
<polygon points="236.7,50.9 233.1,47.2 238.6,47.0" fill="#727272"/>
<polygon points="244.1,48.8 251.5,46.6 249.6,48.5" fill="#a8a8a8"/>
<polygon points="251.5,46.6 255.1,50.3 249.6,48.5" fill="#868686"/>
<polygon points="255.1,50.3 247.7,52.5 249.6,48.5" fill="#555555"/>
<polygon points="247.7,52.5 244.1,48.8 249.6,48.5" fill="#727272"/>
<polygon points="255.1,50.3 262.5,48.1 260.6,50.1" fill="#a8a8a8"/>
<polygon points="262.5,48.1 266.0,51.9 260.6,50.1" fill="#868686"/>
<polygon points="266.0,51.9 258.6,54.1 260.6,50.1" fill="#555555"/>
<polygon points="258.6,54.1 255.1,50.3 260.6,50.1" fill="#727272"/>
<polygon points="266.0,51.9 273.4,49.7 271.5,51.7" fill="#a8a8a8"/>
<polygon points="273.4,49.7 277.0,53.5 271.5,51.7" fill="#868686"/>
<polygon points="277.0,53.5 269.6,55.7 271.5,51.7" fill="#555555"/>
<polygon points="269.6,55.7 266.0,51.9 271.5,51.7" fill="#727272"/>
<polygon points="277.0,53.5 284.4,51.3 282.5,53.2" fill="#a8a8a8"/>
<polygon points="284.4,51.3 288.0,55.0 282.5,53.2" fill="#868686"/>
<polygon points="288.0,55.0 280.6,57.2 282.5,53.2" fill="#555555"/>
<polygon points="280.6,57.2 277.0,53.5 282.5,53.2" fill="#727272"/>
<polygon points="288.0,55.0 295.4,52.8 293.5,54.8" fill="#a8a8a8"/>
<polygon points="295.4,52.8 298.9,56.6 293.5,54.8" fill="#868686"/>
<polygon points="298.9,56.6 291.6,58.8 293.5,54.8" fill="#555555"/>
<polygon points="291.6,58.8 288.0,55.0 293.5,54.8" fill="#727272"/>
<polygon points="185.4,46.9 192.8,44.7 190.9,46.6" fill="#a8a8a8"/>
<polygon points="192.8,44.7 196.4,48.4 190.9,46.6" fill="#868686"/>
<polygon points="196.4,48.4 189.0,50.6 190.9,46.6" fill="#555555"/>
<polygon points="189.0,50.6 185.4,46.9 190.9,46.6" fill="#727272"/>
<polygon points="196.4,48.4 203.8,46.2 201.9,48.2" fill="#a8a8a8"/>
<polygon points="203.8,46.2 207.4,50.0 201.9,48.2" fill="#868686"/>
<polygon points="207.4,50.0 200.0,52.2 201.9,48.2" fill="#555555"/>
<polygon points="200.0,52.2 196.4,48.4 201.9,48.2" fill="#727272"/>
<polygon points="207.4,50.0 214.8,47.8 212.9,49.8" fill="#a8a8a8"/>
<polygon points="214.8,47.8 218.3,51.6 212.9,49.8" fill="#868686"/>
<polygon points="218.3,51.6 210.9,53.8 212.9,49.8" fill="#555555"/>
<polygon points="210.9,53.8 207.4,50.0 212.9,49.8" fill="#727272"/>
<polygon points="218.3,51.6 225.7,49.4 223.8,51.4" fill="#a8a8a8"/>
<polygon points="225.7,49.4 229.3,53.1 223.8,51.4" fill="#868686"/>
<polygon points="229.3,53.1 221.9,55.3 223.8,51.4" fill="#555555"/>
<polygon points="221.9,55.3 218.3,51.6 223.8,51.4" fill="#727272"/>
<polygon points="229.3,53.1 236.7,50.9 234.8,52.9" fill="#a8a8a8"/>
<polygon points="236.7,50.9 240.3,54.7 234.8,52.9" fill="#868686"/>
<polygon points="240.3,54.7 232.9,56.9 234.8,52.9" fill="#555555"/>
<polygon points="232.9,56.9 229.3,53.1 234.8,52.9" fill="#727272"/>
<polygon points="240.3,54.7 247.7,52.5 245.8,54.5" fill="#a8a8a8"/>
<polygon points="247.7,52.5 251.2,56.3 245.8,54.5" fill="#868686"/>
<polygon points="251.2,56.3 243.9,58.5 245.8,54.5" fill="#555555"/>
<polygon points="243.9,58.5 240.3,54.7 245.8,54.5" fill="#727272"/>
<polygon points="251.2,56.3 258.6,54.1 256.7,56.1" fill="#a8a8a8"/>
<polygon points="258.6,54.1 262.2,57.9 256.7,56.1" fill="#868686"/>
<polygon points="262.2,57.9 254.8,60.0 256.7,56.1" fill="#555555"/>
<polygon points="254.8,60.0 251.2,56.3 256.7,56.1" fill="#727272"/>
<polygon points="262.2,57.9 269.6,55.7 267.7,57.6" fill="#a8a8a8"/>
<polygon points="269.6,55.7 273.2,59.4 267.7,57.6" fill="#868686"/>
<polygon points="273.2,59.4 265.8,61.6 267.7,57.6" fill="#555555"/>
<polygon points="265.8,61.6 262.2,57.9 267.7,57.6" fill="#727272"/>
<polygon points="273.2,59.4 280.6,57.2 278.7,59.2" fill="#a8a8a8"/>
<polygon points="280.6,57.2 284.2,61.0 278.7,59.2" fill="#868686"/>
<polygon points="284.2,61.0 276.8,63.2 278.7,59.2" fill="#555555"/>
<polygon points="276.8,63.2 273.2,59.4 278.7,59.2" fill="#727272"/>
<polygon points="284.2,61.0 291.6,58.8 289.6,60.8" fill="#a8a8a8"/>
<polygon points="291.6,58.8 295.1,62.6 289.6,60.8" fill="#868686"/>
<polygon points="295.1,62.6 287.7,64.8 289.6,60.8" fill="#555555"/>
<polygon points="287.7,64.8 284.2,61.0 289.6,60.8" fill="#727272"/>
<polygon points="181.6,52.8 189.0,50.6 187.1,52.6" fill="#a8a8a8"/>
<polygon points="189.0,50.6 192.6,54.4 187.1,52.6" fill="#868686"/>
<polygon points="192.6,54.4 185.2,56.6 187.1,52.6" fill="#555555"/>
<polygon points="185.2,56.6 181.6,52.8 187.1,52.6" fill="#727272"/>
<polygon points="192.6,54.4 200.0,52.2 198.1,54.2" fill="#a8a8a8"/>
<polygon points="200.0,52.2 203.6,56.0 198.1,54.2" fill="#868686"/>
<polygon points="203.6,56.0 196.2,58.2 198.1,54.2" fill="#555555"/>
<polygon points="196.2,58.2 192.6,54.4 198.1,54.2" fill="#727272"/>
<polygon points="203.6,56.0 210.9,53.8 209.0,55.7" fill="#a8a8a8"/>
<polygon points="210.9,53.8 214.5,57.5 209.0,55.7" fill="#868686"/>
<polygon points="214.5,57.5 207.1,59.7 209.0,55.7" fill="#555555"/>
<polygon points="207.1,59.7 203.6,56.0 209.0,55.7" fill="#727272"/>
<polygon points="214.5,57.5 221.9,55.3 220.0,57.3" fill="#a8a8a8"/>
<polygon points="221.9,55.3 225.5,59.1 220.0,57.3" fill="#868686"/>
<polygon points="225.5,59.1 218.1,61.3 220.0,57.3" fill="#555555"/>
<polygon points="218.1,61.3 214.5,57.5 220.0,57.3" fill="#727272"/>
<polygon points="225.5,59.1 232.9,56.9 231.0,58.9" fill="#a8a8a8"/>
<polygon points="232.9,56.9 236.5,60.7 231.0,58.9" fill="#868686"/>
<polygon points="236.5,60.7 229.1,62.9 231.0,58.9" fill="#555555"/>
<polygon points="229.1,62.9 225.5,59.1 231.0,58.9" fill="#727272"/>
<polygon points="236.5,60.7 243.9,58.5 241.9,60.5" fill="#a8a8a8"/>
<polygon points="243.9,58.5 247.4,62.2 241.9,60.5" fill="#868686"/>
<polygon points="247.4,62.2 240.0,64.4 241.9,60.5" fill="#555555"/>
<polygon points="240.0,64.4 236.5,60.7 241.9,60.5" fill="#727272"/>
<polygon points="247.4,62.2 254.8,60.0 252.9,62.0" fill="#a8a8a8"/>
<polygon points="254.8,60.0 258.4,63.8 252.9,62.0" fill="#868686"/>
<polygon points="258.4,63.8 251.0,66.0 252.9,62.0" fill="#555555"/>
<polygon points="251.0,66.0 247.4,62.2 252.9,62.0" fill="#727272"/>
<polygon points="258.4,63.8 265.8,61.6 263.9,63.6" fill="#a8a8a8"/>
<polygon points="265.8,61.6 269.4,65.4 263.9,63.6" fill="#868686"/>
<polygon points="269.4,65.4 262.0,67.6 263.9,63.6" fill="#555555"/>
<polygon points="262.0,67.6 258.4,63.8 263.9,63.6" fill="#727272"/>
<polygon points="269.4,65.4 276.8,63.2 274.9,65.2" fill="#a8a8a8"/>
<polygon points="276.8,63.2 280.3,67.0 274.9,65.2" fill="#868686"/>
<polygon points="280.3,67.0 272.9,69.1 274.9,65.2" fill="#555555"/>
<polygon points="272.9,69.1 269.4,65.4 274.9,65.2" fill="#727272"/>
<polygon points="280.3,67.0 287.7,64.8 285.8,66.7" fill="#a8a8a8"/>
<polygon points="287.7,64.8 291.3,68.5 285.8,66.7" fill="#868686"/>
<polygon points="291.3,68.5 283.9,70.7 285.8,66.7" fill="#555555"/>
<polygon points="283.9,70.7 280.3,67.0 285.8,66.7" fill="#727272"/>
<polygon points="179.9,60.4 185.2,56.6 185.4,61.2" fill="#8e8e8e"/>
<polygon points="185.2,56.6 190.9,62.0 185.4,61.2" fill="#6e6e6e"/>
<polygon points="190.9,62.0 185.6,65.8 185.4,61.2" fill="#474747"/>
<polygon points="185.6,65.8 179.9,60.4 185.4,61.2" fill="#5e5e5e"/>
<polygon points="190.9,62.0 196.2,58.2 196.4,62.8" fill="#8e8e8e"/>
<polygon points="196.2,58.2 201.8,63.5 196.4,62.8" fill="#6e6e6e"/>
<polygon points="201.8,63.5 196.6,67.4 196.4,62.8" fill="#474747"/>
<polygon points="196.6,67.4 190.9,62.0 196.4,62.8" fill="#5e5e5e"/>
<polygon points="201.8,63.5 207.1,59.7 207.3,64.3" fill="#8e8e8e"/>
<polygon points="207.1,59.7 212.8,65.1 207.3,64.3" fill="#6e6e6e"/>
<polygon points="212.8,65.1 207.5,68.9 207.3,64.3" fill="#474747"/>
<polygon points="207.5,68.9 201.8,63.5 207.3,64.3" fill="#5e5e5e"/>
<polygon points="212.8,65.1 218.1,61.3 218.3,65.9" fill="#8e8e8e"/>
<polygon points="218.1,61.3 223.8,66.7 218.3,65.9" fill="#6e6e6e"/>
<polygon points="223.8,66.7 218.5,70.5 218.3,65.9" fill="#474747"/>
<polygon points="218.5,70.5 212.8,65.1 218.3,65.9" fill="#5e5e5e"/>
<polygon points="223.8,66.7 229.1,62.9 229.3,67.5" fill="#8e8e8e"/>
<polygon points="229.1,62.9 234.8,68.2 229.3,67.5" fill="#6e6e6e"/>
<polygon points="234.8,68.2 229.5,72.1 229.3,67.5" fill="#474747"/>
<polygon points="229.5,72.1 223.8,66.7 229.3,67.5" fill="#5e5e5e"/>
<polygon points="234.8,68.2 240.0,64.4 240.2,69.0" fill="#8e8e8e"/>
<polygon points="240.0,64.4 245.7,69.8 240.2,69.0" fill="#6e6e6e"/>
<polygon points="245.7,69.8 240.4,73.6 240.2,69.0" fill="#474747"/>
<polygon points="240.4,73.6 234.8,68.2 240.2,69.0" fill="#5e5e5e"/>
<polygon points="245.7,69.8 251.0,66.0 251.2,70.6" fill="#8e8e8e"/>
<polygon points="251.0,66.0 256.7,71.4 251.2,70.6" fill="#6e6e6e"/>
<polygon points="256.7,71.4 251.4,75.2 251.2,70.6" fill="#474747"/>
<polygon points="251.4,75.2 245.7,69.8 251.2,70.6" fill="#5e5e5e"/>
<polygon points="256.7,71.4 262.0,67.6 262.2,72.2" fill="#8e8e8e"/>
<polygon points="262.0,67.6 267.7,73.0 262.2,72.2" fill="#6e6e6e"/>
<polygon points="267.7,73.0 262.4,76.8 262.2,72.2" fill="#474747"/>
<polygon points="262.4,76.8 256.7,71.4 262.2,72.2" fill="#5e5e5e"/>
<polygon points="267.7,73.0 272.9,69.1 273.1,73.7" fill="#8e8e8e"/>
<polygon points="272.9,69.1 278.6,74.5 273.1,73.7" fill="#6e6e6e"/>
<polygon points="278.6,74.5 273.3,78.3 273.1,73.7" fill="#474747"/>
<polygon points="273.3,78.3 267.7,73.0 273.1,73.7" fill="#5e5e5e"/>
<polygon points="278.6,74.5 283.9,70.7 284.1,75.3" fill="#8e8e8e"/>
<polygon points="283.9,70.7 289.6,76.1 284.1,75.3" fill="#6e6e6e"/>
<polygon points="289.6,76.1 284.3,79.9 284.1,75.3" fill="#474747"/>
<polygon points="284.3,79.9 278.6,74.5 284.1,75.3" fill="#5e5e5e"/>
<polygon points="182.1,66.5 189.1,68.1 185.9,71.8" fill="#6a6a6a" fill-opacity="0.7"/>
<polygon points="193.1,68.1 200.0,69.6 196.9,73.4" fill="#6a6a6a" fill-opacity="0.7"/>
<polygon points="204.0,69.6 211.0,71.2 207.8,74.9" fill="#6a6a6a" fill-opacity="0.7"/>
<polygon points="215.0,71.2 222.0,72.8 218.8,76.5" fill="#6a6a6a" fill-opacity="0.7"/>
<polygon points="226.0,72.8 232.9,74.3 229.8,78.1" fill="#6a6a6a" fill-opacity="0.7"/>
<polygon points="236.9,74.3 243.9,75.9 240.7,79.6" fill="#6a6a6a" fill-opacity="0.7"/>
<polygon points="247.9,75.9 254.9,77.5 251.7,81.2" fill="#6a6a6a" fill-opacity="0.7"/>
<polygon points="258.9,77.5 265.9,79.1 262.7,82.8" fill="#6a6a6a" fill-opacity="0.7"/>
<polygon points="269.9,79.1 276.8,80.6 273.6,84.3" fill="#6a6a6a" fill-opacity="0.7"/>
<polygon points="280.8,80.6 287.8,82.2 284.6,85.9" fill="#6a6a6a" fill-opacity="0.7"/>
<circle cx="204.3" cy="26.8" r="0.75" fill="#b5652e"/>
<circle cx="196.9" cy="29.0" r="0.75" fill="#b5652e"/>
<circle cx="215.3" cy="28.4" r="0.75" fill="#b5652e"/>
<circle cx="207.9" cy="30.6" r="0.75" fill="#b5652e"/>
<circle cx="226.2" cy="29.9" r="0.75" fill="#b5652e"/>
<circle cx="218.8" cy="32.1" r="0.75" fill="#b5652e"/>
<circle cx="237.2" cy="31.5" r="0.75" fill="#b5652e"/>
<circle cx="229.8" cy="33.7" r="0.75" fill="#b5652e"/>
<circle cx="248.2" cy="33.1" r="0.75" fill="#b5652e"/>
<circle cx="240.8" cy="35.3" r="0.75" fill="#b5652e"/>
<circle cx="259.1" cy="34.6" r="0.75" fill="#b5652e"/>
<circle cx="251.7" cy="36.8" r="0.75" fill="#b5652e"/>
<circle cx="270.1" cy="36.2" r="0.75" fill="#b5652e"/>
<circle cx="262.7" cy="38.4" r="0.75" fill="#b5652e"/>
<circle cx="281.1" cy="37.8" r="0.75" fill="#b5652e"/>
<circle cx="273.7" cy="40.0" r="0.75" fill="#b5652e"/>
<circle cx="292.0" cy="39.3" r="0.75" fill="#b5652e"/>
<circle cx="284.6" cy="41.5" r="0.75" fill="#b5652e"/>
<circle cx="303.0" cy="40.9" r="0.75" fill="#b5652e"/>
<circle cx="295.6" cy="43.1" r="0.75" fill="#b5652e"/>
<circle cx="306.6" cy="44.7" r="0.75" fill="#b5652e"/>
<circle cx="200.5" cy="32.7" r="0.75" fill="#b5652e"/>
<circle cx="193.1" cy="34.9" r="0.75" fill="#b5652e"/>
<circle cx="211.4" cy="34.3" r="0.75" fill="#b5652e"/>
<circle cx="204.0" cy="36.5" r="0.75" fill="#b5652e"/>
<circle cx="222.4" cy="35.9" r="0.75" fill="#b5652e"/>
<circle cx="215.0" cy="38.1" r="0.75" fill="#b5652e"/>
<circle cx="233.4" cy="37.5" r="0.75" fill="#b5652e"/>
<circle cx="226.0" cy="39.6" r="0.75" fill="#b5652e"/>
<circle cx="244.3" cy="39.0" r="0.75" fill="#b5652e"/>
<circle cx="236.9" cy="41.2" r="0.75" fill="#b5652e"/>
<circle cx="255.3" cy="40.6" r="0.75" fill="#b5652e"/>
<circle cx="247.9" cy="42.8" r="0.75" fill="#b5652e"/>
<circle cx="266.3" cy="42.2" r="0.75" fill="#b5652e"/>
<circle cx="258.9" cy="44.4" r="0.75" fill="#b5652e"/>
<circle cx="277.3" cy="43.7" r="0.75" fill="#b5652e"/>
<circle cx="269.9" cy="45.9" r="0.75" fill="#b5652e"/>
<circle cx="288.2" cy="45.3" r="0.75" fill="#b5652e"/>
<circle cx="280.8" cy="47.5" r="0.75" fill="#b5652e"/>
<circle cx="299.2" cy="46.9" r="0.75" fill="#b5652e"/>
<circle cx="291.8" cy="49.1" r="0.75" fill="#b5652e"/>
<circle cx="302.8" cy="50.6" r="0.75" fill="#b5652e"/>
<circle cx="196.6" cy="38.7" r="0.75" fill="#b5652e"/>
<circle cx="189.2" cy="40.9" r="0.75" fill="#b5652e"/>
<circle cx="207.6" cy="40.3" r="0.75" fill="#b5652e"/>
<circle cx="200.2" cy="42.5" r="0.75" fill="#b5652e"/>
<circle cx="218.6" cy="41.8" r="0.75" fill="#b5652e"/>
<circle cx="211.2" cy="44.0" r="0.75" fill="#b5652e"/>
<circle cx="229.6" cy="43.4" r="0.75" fill="#b5652e"/>
<circle cx="222.2" cy="45.6" r="0.75" fill="#b5652e"/>
<circle cx="240.5" cy="45.0" r="0.75" fill="#b5652e"/>
<circle cx="233.1" cy="47.2" r="0.75" fill="#b5652e"/>
<circle cx="251.5" cy="46.6" r="0.75" fill="#b5652e"/>
<circle cx="244.1" cy="48.8" r="0.75" fill="#b5652e"/>
<circle cx="262.5" cy="48.1" r="0.75" fill="#b5652e"/>
<circle cx="255.1" cy="50.3" r="0.75" fill="#b5652e"/>
<circle cx="273.4" cy="49.7" r="0.75" fill="#b5652e"/>
<circle cx="266.0" cy="51.9" r="0.75" fill="#b5652e"/>
<circle cx="284.4" cy="51.3" r="0.75" fill="#b5652e"/>
<circle cx="277.0" cy="53.5" r="0.75" fill="#b5652e"/>
<circle cx="295.4" cy="52.8" r="0.75" fill="#b5652e"/>
<circle cx="288.0" cy="55.0" r="0.75" fill="#b5652e"/>
<circle cx="298.9" cy="56.6" r="0.75" fill="#b5652e"/>
<circle cx="192.8" cy="44.7" r="0.75" fill="#b5652e"/>
<circle cx="185.4" cy="46.9" r="0.75" fill="#b5652e"/>
<circle cx="203.8" cy="46.2" r="0.75" fill="#b5652e"/>
<circle cx="196.4" cy="48.4" r="0.75" fill="#b5652e"/>
<circle cx="214.8" cy="47.8" r="0.75" fill="#b5652e"/>
<circle cx="207.4" cy="50.0" r="0.75" fill="#b5652e"/>
<circle cx="225.7" cy="49.4" r="0.75" fill="#b5652e"/>
<circle cx="218.3" cy="51.6" r="0.75" fill="#b5652e"/>
<circle cx="236.7" cy="50.9" r="0.75" fill="#b5652e"/>
<circle cx="229.3" cy="53.1" r="0.75" fill="#b5652e"/>
<circle cx="247.7" cy="52.5" r="0.75" fill="#b5652e"/>
<circle cx="240.3" cy="54.7" r="0.75" fill="#b5652e"/>
<circle cx="258.6" cy="54.1" r="0.75" fill="#b5652e"/>
<circle cx="251.2" cy="56.3" r="0.75" fill="#b5652e"/>
<circle cx="269.6" cy="55.7" r="0.75" fill="#b5652e"/>
<circle cx="262.2" cy="57.9" r="0.75" fill="#b5652e"/>
<circle cx="280.6" cy="57.2" r="0.75" fill="#b5652e"/>
<circle cx="273.2" cy="59.4" r="0.75" fill="#b5652e"/>
<circle cx="291.6" cy="58.8" r="0.75" fill="#b5652e"/>
<circle cx="284.2" cy="61.0" r="0.75" fill="#b5652e"/>
<circle cx="295.1" cy="62.6" r="0.75" fill="#b5652e"/>
<circle cx="189.0" cy="50.6" r="0.75" fill="#b5652e"/>
<circle cx="181.6" cy="52.8" r="0.75" fill="#b5652e"/>
<circle cx="200.0" cy="52.2" r="0.75" fill="#b5652e"/>
<circle cx="192.6" cy="54.4" r="0.75" fill="#b5652e"/>
<circle cx="210.9" cy="53.8" r="0.75" fill="#b5652e"/>
<circle cx="203.6" cy="56.0" r="0.75" fill="#b5652e"/>
<circle cx="221.9" cy="55.3" r="0.75" fill="#b5652e"/>
<circle cx="214.5" cy="57.5" r="0.75" fill="#b5652e"/>
<circle cx="232.9" cy="56.9" r="0.75" fill="#b5652e"/>
<circle cx="225.5" cy="59.1" r="0.75" fill="#b5652e"/>
<circle cx="243.9" cy="58.5" r="0.75" fill="#b5652e"/>
<circle cx="236.5" cy="60.7" r="0.75" fill="#b5652e"/>
<circle cx="254.8" cy="60.0" r="0.75" fill="#b5652e"/>
<circle cx="247.4" cy="62.2" r="0.75" fill="#b5652e"/>
<circle cx="265.8" cy="61.6" r="0.75" fill="#b5652e"/>
<circle cx="258.4" cy="63.8" r="0.75" fill="#b5652e"/>
<circle cx="276.8" cy="63.2" r="0.75" fill="#b5652e"/>
<circle cx="269.4" cy="65.4" r="0.75" fill="#b5652e"/>
<circle cx="287.7" cy="64.8" r="0.75" fill="#b5652e"/>
<circle cx="280.3" cy="67.0" r="0.75" fill="#b5652e"/>
<circle cx="291.3" cy="68.5" r="0.75" fill="#b5652e"/>
<circle cx="185.2" cy="56.6" r="0.75" fill="#b5652e"/>
<circle cx="196.2" cy="58.2" r="0.75" fill="#b5652e"/>
<circle cx="207.1" cy="59.7" r="0.75" fill="#b5652e"/>
<circle cx="218.1" cy="61.3" r="0.75" fill="#b5652e"/>
<circle cx="229.1" cy="62.9" r="0.75" fill="#b5652e"/>
<circle cx="240.0" cy="64.4" r="0.75" fill="#b5652e"/>
<circle cx="251.0" cy="66.0" r="0.75" fill="#b5652e"/>
<circle cx="262.0" cy="67.6" r="0.75" fill="#b5652e"/>
<circle cx="272.9" cy="69.1" r="0.75" fill="#b5652e"/>
<circle cx="283.9" cy="70.7" r="0.75" fill="#b5652e"/>
<circle cx="179.9" cy="60.4" r="0.75" fill="#b5652e"/>
<circle cx="180.4" cy="69.5" r="0.75" fill="#b5652e"/>
<circle cx="185.6" cy="65.8" r="0.75" fill="#b5652e"/>
<circle cx="190.9" cy="62.0" r="0.75" fill="#b5652e"/>
<circle cx="191.4" cy="71.1" r="0.75" fill="#b5652e"/>
<circle cx="196.6" cy="67.4" r="0.75" fill="#b5652e"/>
<circle cx="201.8" cy="63.5" r="0.75" fill="#b5652e"/>
<circle cx="202.3" cy="72.7" r="0.75" fill="#b5652e"/>
<circle cx="207.5" cy="68.9" r="0.75" fill="#b5652e"/>
<circle cx="212.8" cy="65.1" r="0.75" fill="#b5652e"/>
<circle cx="213.3" cy="74.3" r="0.75" fill="#b5652e"/>
<circle cx="218.5" cy="70.5" r="0.75" fill="#b5652e"/>
<circle cx="223.8" cy="66.7" r="0.75" fill="#b5652e"/>
<circle cx="224.3" cy="75.8" r="0.75" fill="#b5652e"/>
<circle cx="229.5" cy="72.1" r="0.75" fill="#b5652e"/>
<circle cx="234.8" cy="68.2" r="0.75" fill="#b5652e"/>
<circle cx="235.2" cy="77.4" r="0.75" fill="#b5652e"/>
<circle cx="240.4" cy="73.6" r="0.75" fill="#b5652e"/>
<circle cx="245.7" cy="69.8" r="0.75" fill="#b5652e"/>
<circle cx="246.2" cy="79.0" r="0.75" fill="#b5652e"/>
<circle cx="251.4" cy="75.2" r="0.75" fill="#b5652e"/>
<circle cx="256.7" cy="71.4" r="0.75" fill="#b5652e"/>
<circle cx="257.2" cy="80.5" r="0.75" fill="#b5652e"/>
<circle cx="262.4" cy="76.8" r="0.75" fill="#b5652e"/>
<circle cx="267.7" cy="73.0" r="0.75" fill="#b5652e"/>
<circle cx="268.2" cy="82.1" r="0.75" fill="#b5652e"/>
<circle cx="273.3" cy="78.3" r="0.75" fill="#b5652e"/>
<circle cx="278.6" cy="74.5" r="0.75" fill="#b5652e"/>
<circle cx="279.1" cy="83.7" r="0.75" fill="#b5652e"/>
<circle cx="284.3" cy="79.9" r="0.75" fill="#b5652e"/>
<circle cx="289.6" cy="76.1" r="0.75" fill="#b5652e"/>
<circle cx="290.1" cy="85.2" r="0.75" fill="#b5652e"/>
<circle cx="195.4" cy="26.8" r="1.15" fill="#6e6e6e"/>
<circle cx="199.4" cy="20.4" r="0.8" fill="#b5652e"/>
<circle cx="195.8" cy="23.0" r="0.7" fill="#b5652e"/>
<circle cx="206.4" cy="28.4" r="1.15" fill="#6e6e6e"/>
<circle cx="210.4" cy="22.0" r="0.8" fill="#b5652e"/>
<circle cx="206.8" cy="24.6" r="0.7" fill="#b5652e"/>
<circle cx="217.3" cy="29.9" r="1.15" fill="#6e6e6e"/>
<circle cx="221.3" cy="23.5" r="0.8" fill="#b5652e"/>
<circle cx="217.7" cy="26.1" r="0.7" fill="#b5652e"/>
<circle cx="228.3" cy="31.5" r="1.15" fill="#6e6e6e"/>
<circle cx="232.3" cy="25.1" r="0.8" fill="#b5652e"/>
<circle cx="228.7" cy="27.7" r="0.7" fill="#b5652e"/>
<circle cx="239.3" cy="33.1" r="1.15" fill="#6e6e6e"/>
<circle cx="243.3" cy="26.7" r="0.8" fill="#b5652e"/>
<circle cx="239.7" cy="29.3" r="0.7" fill="#b5652e"/>
<circle cx="250.2" cy="34.6" r="1.15" fill="#6e6e6e"/>
<circle cx="254.2" cy="28.2" r="0.8" fill="#b5652e"/>
<circle cx="250.7" cy="30.9" r="0.7" fill="#b5652e"/>
<circle cx="261.2" cy="36.2" r="1.15" fill="#6e6e6e"/>
<circle cx="265.2" cy="29.8" r="0.8" fill="#b5652e"/>
<circle cx="261.6" cy="32.4" r="0.7" fill="#b5652e"/>
<circle cx="272.2" cy="37.8" r="1.15" fill="#6e6e6e"/>
<circle cx="276.2" cy="31.4" r="0.8" fill="#b5652e"/>
<circle cx="272.6" cy="34.0" r="0.7" fill="#b5652e"/>
<circle cx="283.2" cy="39.4" r="1.15" fill="#6e6e6e"/>
<circle cx="287.2" cy="33.0" r="0.8" fill="#b5652e"/>
<circle cx="283.6" cy="35.6" r="0.7" fill="#b5652e"/>
<circle cx="294.1" cy="40.9" r="1.15" fill="#6e6e6e"/>
<circle cx="298.1" cy="34.5" r="0.8" fill="#b5652e"/>
<circle cx="294.5" cy="37.1" r="0.7" fill="#b5652e"/>
<circle cx="305.1" cy="42.5" r="1.15" fill="#6e6e6e"/>
<circle cx="309.1" cy="36.1" r="0.8" fill="#b5652e"/>
<circle cx="305.5" cy="38.7" r="0.7" fill="#b5652e"/>
<circle cx="195.0" cy="27.2" r="1.15" fill="#6a6a6a"/>
<circle cx="192.0" cy="25.0" r="0.8" fill="#b5652e"/>
<circle cx="194.3" cy="22.4" r="0.7" fill="#b5652e"/>
<circle cx="191.2" cy="33.2" r="1.15" fill="#6a6a6a"/>
<circle cx="188.2" cy="31.0" r="0.8" fill="#b5652e"/>
<circle cx="190.5" cy="28.4" r="0.7" fill="#b5652e"/>
<circle cx="187.4" cy="39.1" r="1.15" fill="#6a6a6a"/>
<circle cx="184.4" cy="36.9" r="0.8" fill="#b5652e"/>
<circle cx="186.7" cy="34.3" r="0.7" fill="#b5652e"/>
<circle cx="183.5" cy="45.1" r="1.15" fill="#6a6a6a"/>
<circle cx="180.5" cy="42.9" r="0.8" fill="#b5652e"/>
<circle cx="182.8" cy="40.3" r="0.7" fill="#b5652e"/>
<circle cx="179.7" cy="51.0" r="1.15" fill="#6a6a6a"/>
<circle cx="176.7" cy="48.8" r="0.8" fill="#b5652e"/>
<circle cx="179.0" cy="46.2" r="0.7" fill="#b5652e"/>
<circle cx="175.9" cy="57.0" r="1.15" fill="#6a6a6a"/>
<circle cx="172.9" cy="54.8" r="0.8" fill="#b5652e"/>
<circle cx="175.2" cy="52.2" r="0.7" fill="#b5652e"/>
<circle cx="176.1" cy="66.0" r="1.15" fill="#6a6a6a"/>
<circle cx="173.6" cy="63.0" r="0.8" fill="#b5652e"/>
<circle cx="176.7" cy="75.1" r="1.15" fill="#6a6a6a"/>
<circle cx="174.2" cy="72.1" r="0.8" fill="#b5652e"/>
<circle cx="313.0" cy="43.2" r="1.05" fill="#6a6a6a"/>
<circle cx="316.0" cy="44.7" r="0.75" fill="#b5652e"/>
<circle cx="311.5" cy="39.2" r="0.7" fill="#b5652e"/>
<circle cx="309.2" cy="49.2" r="1.05" fill="#6a6a6a"/>
<circle cx="312.2" cy="50.7" r="0.75" fill="#b5652e"/>
<circle cx="307.7" cy="45.2" r="0.7" fill="#b5652e"/>
<circle cx="305.4" cy="55.1" r="1.05" fill="#6a6a6a"/>
<circle cx="308.4" cy="56.6" r="0.75" fill="#b5652e"/>
<circle cx="303.9" cy="51.1" r="0.7" fill="#b5652e"/>
<circle cx="301.5" cy="61.1" r="1.05" fill="#6a6a6a"/>
<circle cx="304.5" cy="62.6" r="0.75" fill="#b5652e"/>
<circle cx="300.0" cy="57.1" r="0.7" fill="#b5652e"/>
<circle cx="297.7" cy="67.0" r="1.05" fill="#6a6a6a"/>
<circle cx="300.7" cy="68.5" r="0.75" fill="#b5652e"/>
<circle cx="296.2" cy="63.0" r="0.7" fill="#b5652e"/>
<circle cx="293.9" cy="73.0" r="1.05" fill="#6a6a6a"/>
<circle cx="296.9" cy="74.5" r="0.75" fill="#b5652e"/>
<circle cx="292.4" cy="69.0" r="0.7" fill="#b5652e"/>
<circle cx="294.3" cy="82.2" r="1.05" fill="#6a6a6a"/>
<circle cx="294.9" cy="91.3" r="1.05" fill="#6a6a6a"/>
<circle cx="184.2" cy="73.1" r="1.0" fill="#5a5a5a"/>
<circle cx="195.2" cy="74.7" r="1.0" fill="#5a5a5a"/>
<circle cx="206.1" cy="76.2" r="1.0" fill="#5a5a5a"/>
<circle cx="217.1" cy="77.8" r="1.0" fill="#5a5a5a"/>
<circle cx="228.1" cy="79.4" r="1.0" fill="#5a5a5a"/>
<circle cx="239.0" cy="81.0" r="1.0" fill="#5a5a5a"/>
<circle cx="250.0" cy="82.5" r="1.0" fill="#5a5a5a"/>
<circle cx="261.0" cy="84.1" r="1.0" fill="#5a5a5a"/>
<circle cx="272.0" cy="85.7" r="1.0" fill="#5a5a5a"/>
<circle cx="282.9" cy="87.2" r="1.0" fill="#5a5a5a"/>
<circle cx="293.9" cy="88.8" r="1.0" fill="#5a5a5a"/>
<circle cx="198.8" cy="26.0" r="2" fill="url(#gCy)"/>
<circle cx="209.8" cy="27.6" r="2" fill="url(#gCy)"/>
<circle cx="220.7" cy="29.1" r="2" fill="url(#gCy)"/>
<circle cx="231.7" cy="30.7" r="2" fill="url(#gCy)"/>
<circle cx="242.7" cy="32.3" r="2" fill="url(#gCy)"/>
<circle cx="253.7" cy="33.9" r="2" fill="url(#gCy)"/>
<circle cx="264.6" cy="35.4" r="2" fill="url(#gCy)"/>
<circle cx="275.6" cy="37.0" r="2" fill="url(#gCy)"/>
<circle cx="286.6" cy="38.6" r="2" fill="url(#gCy)"/>
<circle cx="297.5" cy="40.1" r="2" fill="url(#gCy)"/>
<circle cx="308.5" cy="41.7" r="2" fill="url(#gCy)"/>
<circle cx="195.0" cy="32.0" r="2" fill="url(#gCy)"/>
<circle cx="206.0" cy="33.5" r="2" fill="url(#gCy)"/>
<circle cx="216.9" cy="35.1" r="2" fill="url(#gCy)"/>
<circle cx="227.9" cy="36.7" r="2" fill="url(#gCy)"/>
<circle cx="238.9" cy="38.2" r="2" fill="url(#gCy)"/>
<circle cx="249.8" cy="39.8" r="2" fill="url(#gCy)"/>
<circle cx="260.8" cy="41.4" r="2" fill="url(#gCy)"/>
<circle cx="271.8" cy="43.0" r="2" fill="url(#gCy)"/>
<circle cx="282.7" cy="44.5" r="2" fill="url(#gCy)"/>
<circle cx="293.7" cy="46.1" r="2" fill="url(#gCy)"/>
<circle cx="304.7" cy="47.7" r="2" fill="url(#gCy)"/>
<circle cx="191.2" cy="37.9" r="2" fill="url(#gCy)"/>
<circle cx="202.1" cy="39.5" r="2" fill="url(#gCy)"/>
<circle cx="213.1" cy="41.1" r="2" fill="url(#gCy)"/>
<circle cx="224.1" cy="42.6" r="2" fill="url(#gCy)"/>
<circle cx="235.0" cy="44.2" r="2" fill="url(#gCy)"/>
<circle cx="246.0" cy="45.8" r="2" fill="url(#gCy)"/>
<circle cx="257.0" cy="47.3" r="2" fill="url(#gCy)"/>
<circle cx="267.9" cy="48.9" r="2" fill="url(#gCy)"/>
<circle cx="278.9" cy="50.5" r="2" fill="url(#gCy)"/>
<circle cx="289.9" cy="52.1" r="2" fill="url(#gCy)"/>
<circle cx="300.9" cy="53.6" r="2" fill="url(#gCy)"/>
<circle cx="187.3" cy="43.9" r="2" fill="url(#gCy)"/>
<circle cx="198.3" cy="45.5" r="2" fill="url(#gCy)"/>
<circle cx="209.3" cy="47.0" r="2" fill="url(#gCy)"/>
<circle cx="220.2" cy="48.6" r="2" fill="url(#gCy)"/>
<circle cx="231.2" cy="50.2" r="2" fill="url(#gCy)"/>
<circle cx="242.2" cy="51.7" r="2" fill="url(#gCy)"/>
<circle cx="253.2" cy="53.3" r="2" fill="url(#gCy)"/>
<circle cx="264.1" cy="54.9" r="2" fill="url(#gCy)"/>
<circle cx="275.1" cy="56.4" r="2" fill="url(#gCy)"/>
<circle cx="286.1" cy="58.0" r="2" fill="url(#gCy)"/>
<circle cx="297.0" cy="59.6" r="2" fill="url(#gCy)"/>
<circle cx="183.5" cy="49.8" r="2" fill="url(#gCy)"/>
<circle cx="194.5" cy="51.4" r="2" fill="url(#gCy)"/>
<circle cx="205.5" cy="53.0" r="2" fill="url(#gCy)"/>
<circle cx="216.4" cy="54.5" r="2" fill="url(#gCy)"/>
<circle cx="227.4" cy="56.1" r="2" fill="url(#gCy)"/>
<circle cx="238.4" cy="57.7" r="2" fill="url(#gCy)"/>
<circle cx="249.3" cy="59.3" r="2" fill="url(#gCy)"/>
<circle cx="260.3" cy="60.8" r="2" fill="url(#gCy)"/>
<circle cx="271.3" cy="62.4" r="2" fill="url(#gCy)"/>
<circle cx="282.2" cy="64.0" r="2" fill="url(#gCy)"/>
<circle cx="293.2" cy="65.5" r="2" fill="url(#gCy)"/>
<circle cx="179.7" cy="55.8" r="2" fill="url(#gCy)"/>
<circle cx="190.7" cy="57.4" r="2" fill="url(#gCy)"/>
<circle cx="201.6" cy="58.9" r="2" fill="url(#gCy)"/>
<circle cx="212.6" cy="60.5" r="2" fill="url(#gCy)"/>
<circle cx="223.6" cy="62.1" r="2" fill="url(#gCy)"/>
<circle cx="234.5" cy="63.6" r="2" fill="url(#gCy)"/>
<circle cx="245.5" cy="65.2" r="2" fill="url(#gCy)"/>
<circle cx="256.5" cy="66.8" r="2" fill="url(#gCy)"/>
<circle cx="267.5" cy="68.4" r="2" fill="url(#gCy)"/>
<circle cx="278.4" cy="69.9" r="2" fill="url(#gCy)"/>
<circle cx="289.4" cy="71.5" r="2" fill="url(#gCy)"/>
<circle cx="180.1" cy="65.0" r="2" fill="url(#gCy)"/>
<circle cx="180.7" cy="74.1" r="2" fill="url(#gCy)"/>
<circle cx="191.1" cy="66.6" r="2" fill="url(#gCy)"/>
<circle cx="191.7" cy="75.7" r="2" fill="url(#gCy)"/>
<circle cx="202.0" cy="68.1" r="2" fill="url(#gCy)"/>
<circle cx="202.6" cy="77.2" r="2" fill="url(#gCy)"/>
<circle cx="213.0" cy="69.7" r="2" fill="url(#gCy)"/>
<circle cx="213.6" cy="78.8" r="2" fill="url(#gCy)"/>
<circle cx="224.0" cy="71.3" r="2" fill="url(#gCy)"/>
<circle cx="224.6" cy="80.4" r="2" fill="url(#gCy)"/>
<circle cx="234.9" cy="72.8" r="2" fill="url(#gCy)"/>
<circle cx="235.5" cy="82.0" r="2" fill="url(#gCy)"/>
<circle cx="245.9" cy="74.4" r="2" fill="url(#gCy)"/>
<circle cx="246.5" cy="83.5" r="2" fill="url(#gCy)"/>
<circle cx="256.9" cy="76.0" r="2" fill="url(#gCy)"/>
<circle cx="257.5" cy="85.1" r="2" fill="url(#gCy)"/>
<circle cx="267.9" cy="77.6" r="2" fill="url(#gCy)"/>
<circle cx="268.5" cy="86.7" r="2" fill="url(#gCy)"/>
<circle cx="278.8" cy="79.1" r="2" fill="url(#gCy)"/>
<circle cx="279.4" cy="88.2" r="2" fill="url(#gCy)"/>
<circle cx="289.8" cy="80.7" r="2" fill="url(#gCy)"/>
<circle cx="290.4" cy="89.8" r="2" fill="url(#gCy)"/>
</g>
<text class="b" x="322.6" y="55.3" font-size="11" fill="#111">CsPbBr<tspan font-size="7" dy="2.6">3</tspan></text>
<text class="b" x="326.6" y="79.9" font-size="11" fill="#111">SnO<tspan font-size="7" dy="2.6">2</tspan></text>
<text class="b" x="321.8" y="105.4" font-size="11" fill="#111">Glass</text>
<g id="panels">
<rect x="377.8" y="1.2" width="98.19999999999999" height="82.2" fill="#e600ff"/>
<rect x="377.8" y="50.30" width="98.19999999999999" height="1.00" fill="#1e50ff"/>
<rect x="377.8" y="51.30" width="98.19999999999999" height="1.00" fill="#10d8b0"/>
<rect x="377.8" y="52.30" width="98.19999999999999" height="1.00" fill="#ffb000"/>
<rect x="377.8" y="53.30" width="98.19999999999999" height="5.00" fill="#ff3400"/>
<rect x="377.8" y="58.30" width="98.19999999999999" height="5.10" fill="#ff5a00"/>
<rect x="377.8" y="63.40" width="98.19999999999999" height="5.10" fill="#ff7800"/>
<rect x="377.8" y="68.50" width="98.19999999999999" height="5.10" fill="#ff9100"/>
<rect x="377.8" y="73.60" width="98.19999999999999" height="3.10" fill="#ffae00"/>
<rect x="377.8" y="76.70" width="98.19999999999999" height="1.60" fill="#ffd600"/>
<rect x="377.8" y="78.30" width="98.19999999999999" height="1.50" fill="#faf500"/>
<rect x="377.8" y="79.80" width="98.19999999999999" height="1.20" fill="#80e600"/>
<rect x="377.8" y="81.00" width="98.19999999999999" height="1.00" fill="#00dc96"/>
<rect x="377.8" y="82.00" width="98.19999999999999" height="1.40" fill="#0050ff"/>
<rect x="481.1" y="1.2" width="95.89999999999998" height="82.39999999999999" fill="#e600ff"/>
<rect x="481.1" y="50.10" width="95.89999999999998" height="0.80" fill="#1e50ff"/>
<rect x="481.1" y="50.90" width="95.89999999999998" height="1.00" fill="#10d8b0"/>
<rect x="481.1" y="51.90" width="95.89999999999998" height="1.00" fill="#ffb000"/>
<rect x="481.1" y="52.90" width="95.89999999999998" height="6.40" fill="#ff3400"/>
<rect x="481.1" y="59.30" width="95.89999999999998" height="5.60" fill="#ff5a00"/>
<rect x="481.1" y="64.90" width="95.89999999999998" height="5.70" fill="#ff7800"/>
<rect x="481.1" y="70.60" width="95.89999999999998" height="6.10" fill="#ff9100"/>
<rect x="481.1" y="76.70" width="95.89999999999998" height="5.10" fill="#ffaf00"/>
<rect x="481.1" y="81.80" width="95.89999999999998" height="0.90" fill="#60c8c8"/>
<rect x="481.1" y="82.70" width="95.89999999999998" height="0.90" fill="#1e50ff"/>
<rect x="377.8" y="86.9" width="98.19999999999999" height="82.9" fill="#e600ff"/>
<rect x="377.8" y="135.80" width="98.19999999999999" height="1.10" fill="#1e50ff"/>
<rect x="377.8" y="136.90" width="98.19999999999999" height="1.20" fill="#10d8a0"/>
<rect x="377.8" y="138.10" width="98.19999999999999" height="1.00" fill="#ffb000"/>
<rect x="377.8" y="139.10" width="98.19999999999999" height="7.20" fill="#ff6400"/>
<rect x="377.8" y="146.30" width="98.19999999999999" height="5.10" fill="#ff8200"/>
<rect x="377.8" y="151.40" width="98.19999999999999" height="4.10" fill="#ff9b00"/>
<rect x="377.8" y="155.50" width="98.19999999999999" height="3.10" fill="#ffb400"/>
<rect x="377.8" y="158.60" width="98.19999999999999" height="2.60" fill="#ffd700"/>
<rect x="377.8" y="161.20" width="98.19999999999999" height="2.00" fill="#fff500"/>
<rect x="377.8" y="163.20" width="98.19999999999999" height="1.60" fill="#c8f500"/>
<rect x="377.8" y="164.80" width="98.19999999999999" height="1.20" fill="#32e632"/>
<rect x="377.8" y="166.00" width="98.19999999999999" height="1.30" fill="#00dcdc"/>
<rect x="377.8" y="167.30" width="98.19999999999999" height="1.60" fill="#0078ff"/>
<rect x="377.8" y="168.90" width="98.19999999999999" height="0.90" fill="#3c00e6"/>
<rect x="481.1" y="86.9" width="95.89999999999998" height="82.69999999999999" fill="#e600ff"/>
<rect x="481.1" y="135.80" width="95.89999999999998" height="0.80" fill="#1e50ff"/>
<rect x="481.1" y="136.60" width="95.89999999999998" height="1.00" fill="#10d8b0"/>
<rect x="481.1" y="137.60" width="95.89999999999998" height="1.00" fill="#ffb000"/>
<rect x="481.1" y="138.60" width="95.89999999999998" height="6.20" fill="#ff3400"/>
<rect x="481.1" y="144.80" width="95.89999999999998" height="4.60" fill="#ff5a00"/>
<rect x="481.1" y="149.40" width="95.89999999999998" height="5.10" fill="#ff7800"/>
<rect x="481.1" y="154.50" width="95.89999999999998" height="6.20" fill="#ff9100"/>
<rect x="481.1" y="160.70" width="95.89999999999998" height="5.10" fill="#ffaf00"/>
<rect x="481.1" y="165.80" width="95.89999999999998" height="1.20" fill="#ffd600"/>
<rect x="481.1" y="167.00" width="95.89999999999998" height="0.80" fill="#50e040"/>
<rect x="481.1" y="167.80" width="95.89999999999998" height="1.10" fill="#00a0ff"/>
<rect x="481.1" y="168.90" width="95.89999999999998" height="0.70" fill="#2840f0"/>
<line x1="378.1" y1="1.2" x2="378.1" y2="83.4" stroke="#404040" stroke-opacity="0.35" stroke-width="0.6"/>
<line x1="377.2" y1="8.3" x2="378.6" y2="8.3" stroke="#404040" stroke-opacity="0.5" stroke-width="0.5"/>
<line x1="377.2" y1="15.4" x2="378.6" y2="15.4" stroke="#404040" stroke-opacity="0.5" stroke-width="0.5"/>
<line x1="377.2" y1="22.5" x2="378.6" y2="22.5" stroke="#404040" stroke-opacity="0.5" stroke-width="0.5"/>
<line x1="377.2" y1="29.6" x2="378.6" y2="29.6" stroke="#404040" stroke-opacity="0.5" stroke-width="0.5"/>
<line x1="377.2" y1="36.7" x2="378.6" y2="36.7" stroke="#404040" stroke-opacity="0.5" stroke-width="0.5"/>
<line x1="377.2" y1="43.8" x2="378.6" y2="43.8" stroke="#404040" stroke-opacity="0.5" stroke-width="0.5"/>
<line x1="377.2" y1="50.9" x2="378.6" y2="50.9" stroke="#404040" stroke-opacity="0.5" stroke-width="0.5"/>
<line x1="377.2" y1="58.0" x2="378.6" y2="58.0" stroke="#404040" stroke-opacity="0.5" stroke-width="0.5"/>
<line x1="377.2" y1="65.1" x2="378.6" y2="65.1" stroke="#404040" stroke-opacity="0.5" stroke-width="0.5"/>
<line x1="377.2" y1="72.2" x2="378.6" y2="72.2" stroke="#404040" stroke-opacity="0.5" stroke-width="0.5"/>
<line x1="377.2" y1="79.3" x2="378.6" y2="79.3" stroke="#404040" stroke-opacity="0.5" stroke-width="0.5"/>
<line x1="391.8" y1="82.60000000000001" x2="391.8" y2="84.0" stroke="#404040" stroke-opacity="0.5" stroke-width="0.5"/>
<line x1="405.8" y1="82.60000000000001" x2="405.8" y2="84.0" stroke="#404040" stroke-opacity="0.5" stroke-width="0.5"/>
<line x1="419.8" y1="82.60000000000001" x2="419.8" y2="84.0" stroke="#404040" stroke-opacity="0.5" stroke-width="0.5"/>
<line x1="433.8" y1="82.60000000000001" x2="433.8" y2="84.0" stroke="#404040" stroke-opacity="0.5" stroke-width="0.5"/>
<line x1="447.8" y1="82.60000000000001" x2="447.8" y2="84.0" stroke="#404040" stroke-opacity="0.5" stroke-width="0.5"/>
<line x1="461.8" y1="82.60000000000001" x2="461.8" y2="84.0" stroke="#404040" stroke-opacity="0.5" stroke-width="0.5"/>
<line x1="481.40000000000003" y1="1.2" x2="481.40000000000003" y2="83.6" stroke="#404040" stroke-opacity="0.35" stroke-width="0.6"/>
<line x1="480.5" y1="8.3" x2="481.90000000000003" y2="8.3" stroke="#404040" stroke-opacity="0.5" stroke-width="0.5"/>
<line x1="480.5" y1="15.4" x2="481.90000000000003" y2="15.4" stroke="#404040" stroke-opacity="0.5" stroke-width="0.5"/>
<line x1="480.5" y1="22.5" x2="481.90000000000003" y2="22.5" stroke="#404040" stroke-opacity="0.5" stroke-width="0.5"/>
<line x1="480.5" y1="29.6" x2="481.90000000000003" y2="29.6" stroke="#404040" stroke-opacity="0.5" stroke-width="0.5"/>
<line x1="480.5" y1="36.7" x2="481.90000000000003" y2="36.7" stroke="#404040" stroke-opacity="0.5" stroke-width="0.5"/>
<line x1="480.5" y1="43.8" x2="481.90000000000003" y2="43.8" stroke="#404040" stroke-opacity="0.5" stroke-width="0.5"/>
<line x1="480.5" y1="50.9" x2="481.90000000000003" y2="50.9" stroke="#404040" stroke-opacity="0.5" stroke-width="0.5"/>
<line x1="480.5" y1="58.0" x2="481.90000000000003" y2="58.0" stroke="#404040" stroke-opacity="0.5" stroke-width="0.5"/>
<line x1="480.5" y1="65.1" x2="481.90000000000003" y2="65.1" stroke="#404040" stroke-opacity="0.5" stroke-width="0.5"/>
<line x1="480.5" y1="72.2" x2="481.90000000000003" y2="72.2" stroke="#404040" stroke-opacity="0.5" stroke-width="0.5"/>
<line x1="480.5" y1="79.3" x2="481.90000000000003" y2="79.3" stroke="#404040" stroke-opacity="0.5" stroke-width="0.5"/>
<line x1="495.1" y1="82.8" x2="495.1" y2="84.19999999999999" stroke="#404040" stroke-opacity="0.5" stroke-width="0.5"/>
<line x1="509.1" y1="82.8" x2="509.1" y2="84.19999999999999" stroke="#404040" stroke-opacity="0.5" stroke-width="0.5"/>
<line x1="523.1" y1="82.8" x2="523.1" y2="84.19999999999999" stroke="#404040" stroke-opacity="0.5" stroke-width="0.5"/>
<line x1="537.1" y1="82.8" x2="537.1" y2="84.19999999999999" stroke="#404040" stroke-opacity="0.5" stroke-width="0.5"/>
<line x1="551.1" y1="82.8" x2="551.1" y2="84.19999999999999" stroke="#404040" stroke-opacity="0.5" stroke-width="0.5"/>
<line x1="565.1" y1="82.8" x2="565.1" y2="84.19999999999999" stroke="#404040" stroke-opacity="0.5" stroke-width="0.5"/>
<line x1="378.1" y1="86.9" x2="378.1" y2="169.8" stroke="#404040" stroke-opacity="0.35" stroke-width="0.6"/>
<line x1="377.2" y1="94.0" x2="378.6" y2="94.0" stroke="#404040" stroke-opacity="0.5" stroke-width="0.5"/>
<line x1="377.2" y1="101.1" x2="378.6" y2="101.1" stroke="#404040" stroke-opacity="0.5" stroke-width="0.5"/>
<line x1="377.2" y1="108.2" x2="378.6" y2="108.2" stroke="#404040" stroke-opacity="0.5" stroke-width="0.5"/>
<line x1="377.2" y1="115.3" x2="378.6" y2="115.3" stroke="#404040" stroke-opacity="0.5" stroke-width="0.5"/>
<line x1="377.2" y1="122.4" x2="378.6" y2="122.4" stroke="#404040" stroke-opacity="0.5" stroke-width="0.5"/>
<line x1="377.2" y1="129.5" x2="378.6" y2="129.5" stroke="#404040" stroke-opacity="0.5" stroke-width="0.5"/>
<line x1="377.2" y1="136.6" x2="378.6" y2="136.6" stroke="#404040" stroke-opacity="0.5" stroke-width="0.5"/>
<line x1="377.2" y1="143.7" x2="378.6" y2="143.7" stroke="#404040" stroke-opacity="0.5" stroke-width="0.5"/>
<line x1="377.2" y1="150.8" x2="378.6" y2="150.8" stroke="#404040" stroke-opacity="0.5" stroke-width="0.5"/>
<line x1="377.2" y1="157.9" x2="378.6" y2="157.9" stroke="#404040" stroke-opacity="0.5" stroke-width="0.5"/>
<line x1="377.2" y1="165.0" x2="378.6" y2="165.0" stroke="#404040" stroke-opacity="0.5" stroke-width="0.5"/>
<line x1="391.8" y1="169.0" x2="391.8" y2="170.4" stroke="#404040" stroke-opacity="0.5" stroke-width="0.5"/>
<line x1="405.8" y1="169.0" x2="405.8" y2="170.4" stroke="#404040" stroke-opacity="0.5" stroke-width="0.5"/>
<line x1="419.8" y1="169.0" x2="419.8" y2="170.4" stroke="#404040" stroke-opacity="0.5" stroke-width="0.5"/>
<line x1="433.8" y1="169.0" x2="433.8" y2="170.4" stroke="#404040" stroke-opacity="0.5" stroke-width="0.5"/>
<line x1="447.8" y1="169.0" x2="447.8" y2="170.4" stroke="#404040" stroke-opacity="0.5" stroke-width="0.5"/>
<line x1="461.8" y1="169.0" x2="461.8" y2="170.4" stroke="#404040" stroke-opacity="0.5" stroke-width="0.5"/>
<line x1="481.40000000000003" y1="86.9" x2="481.40000000000003" y2="169.6" stroke="#404040" stroke-opacity="0.35" stroke-width="0.6"/>
<line x1="480.5" y1="94.0" x2="481.90000000000003" y2="94.0" stroke="#404040" stroke-opacity="0.5" stroke-width="0.5"/>
<line x1="480.5" y1="101.1" x2="481.90000000000003" y2="101.1" stroke="#404040" stroke-opacity="0.5" stroke-width="0.5"/>
<line x1="480.5" y1="108.2" x2="481.90000000000003" y2="108.2" stroke="#404040" stroke-opacity="0.5" stroke-width="0.5"/>
<line x1="480.5" y1="115.3" x2="481.90000000000003" y2="115.3" stroke="#404040" stroke-opacity="0.5" stroke-width="0.5"/>
<line x1="480.5" y1="122.4" x2="481.90000000000003" y2="122.4" stroke="#404040" stroke-opacity="0.5" stroke-width="0.5"/>
<line x1="480.5" y1="129.5" x2="481.90000000000003" y2="129.5" stroke="#404040" stroke-opacity="0.5" stroke-width="0.5"/>
<line x1="480.5" y1="136.6" x2="481.90000000000003" y2="136.6" stroke="#404040" stroke-opacity="0.5" stroke-width="0.5"/>
<line x1="480.5" y1="143.7" x2="481.90000000000003" y2="143.7" stroke="#404040" stroke-opacity="0.5" stroke-width="0.5"/>
<line x1="480.5" y1="150.8" x2="481.90000000000003" y2="150.8" stroke="#404040" stroke-opacity="0.5" stroke-width="0.5"/>
<line x1="480.5" y1="157.9" x2="481.90000000000003" y2="157.9" stroke="#404040" stroke-opacity="0.5" stroke-width="0.5"/>
<line x1="480.5" y1="165.0" x2="481.90000000000003" y2="165.0" stroke="#404040" stroke-opacity="0.5" stroke-width="0.5"/>
<line x1="495.1" y1="168.79999999999998" x2="495.1" y2="170.2" stroke="#404040" stroke-opacity="0.5" stroke-width="0.5"/>
<line x1="509.1" y1="168.79999999999998" x2="509.1" y2="170.2" stroke="#404040" stroke-opacity="0.5" stroke-width="0.5"/>
<line x1="523.1" y1="168.79999999999998" x2="523.1" y2="170.2" stroke="#404040" stroke-opacity="0.5" stroke-width="0.5"/>
<line x1="537.1" y1="168.79999999999998" x2="537.1" y2="170.2" stroke="#404040" stroke-opacity="0.5" stroke-width="0.5"/>
<line x1="551.1" y1="168.79999999999998" x2="551.1" y2="170.2" stroke="#404040" stroke-opacity="0.5" stroke-width="0.5"/>
<line x1="565.1" y1="168.79999999999998" x2="565.1" y2="170.2" stroke="#404040" stroke-opacity="0.5" stroke-width="0.5"/>
<text class="b" x="382.4" y="17.0" font-size="14.2" fill="#111">(c)</text>
<text class="b" x="485.9" y="16.9" font-size="14.2" fill="#111">(d)</text>
<text class="b" x="382.9" y="102.9" font-size="14.2" fill="#111">(e)</text>
<text class="b" x="488.7" y="103.8" font-size="14.2" fill="#111">(f)</text>
<text class="b" x="471.8" y="16.5" font-size="10.5" fill="#111" text-anchor="end">T300</text>
<text class="b" x="574.3" y="16.2" font-size="10.5" fill="#111" text-anchor="end">T400</text>
<text class="b" x="473" y="103.6" font-size="10.5" fill="#111" text-anchor="end">T500</text>
<text class="b" x="574.3" y="103.6" font-size="10.5" fill="#111" text-anchor="end">T600</text>
<text class="b" x="408.9" y="38.1" font-size="10.8" fill="#fff">CsPbBr<tspan font-size="6.8" dy="2.6">3</tspan></text>
<text class="b" x="509.1" y="36.4" font-size="10.8" fill="#fff">CsPbBr<tspan font-size="6.8" dy="2.6">3</tspan></text>
<text class="b" x="411.8" y="123.2" font-size="10.8" fill="#fff">CsPbBr<tspan font-size="6.8" dy="2.6">3</tspan></text>
<text class="b" x="511.8" y="122" font-size="10.8" fill="#fff">CsPbBr<tspan font-size="6.8" dy="2.6">3</tspan></text>
<text class="b" x="416.2" y="73" font-size="10.8" fill="#fff">SnO<tspan font-size="6.8" dy="2.6">2</tspan></text>
<text class="b" x="517.2" y="72" font-size="10.8" fill="#fff">SnO<tspan font-size="6.8" dy="2.6">2</tspan></text>
<text class="b" x="418.8" y="157.3" font-size="10.8" fill="#fff">SnO<tspan font-size="6.8" dy="2.6">2</tspan></text>
<text class="b" x="518.7" y="157.3" font-size="10.8" fill="#fff">SnO<tspan font-size="6.8" dy="2.6">2</tspan></text>
<rect x="583" y="26.10" width="28" height="3.35" fill="rgb(255, 0, 0)"/>
<rect x="583" y="29.40" width="28" height="4.15" fill="rgb(255, 40, 0)"/>
<line x1="583" y1="29.40" x2="611" y2="29.40" stroke="#fff" stroke-opacity="0.3" stroke-width="0.5"/>
<rect x="583" y="33.50" width="28" height="4.05" fill="rgb(255, 90, 0)"/>
<line x1="583" y1="33.50" x2="611" y2="33.50" stroke="#fff" stroke-opacity="0.3" stroke-width="0.5"/>
<rect x="583" y="37.50" width="28" height="4.05" fill="rgb(255, 110, 0)"/>
<line x1="583" y1="37.50" x2="611" y2="37.50" stroke="#fff" stroke-opacity="0.3" stroke-width="0.5"/>
<rect x="583" y="41.50" width="28" height="4.15" fill="rgb(255, 130, 0)"/>
<line x1="583" y1="41.50" x2="611" y2="41.50" stroke="#fff" stroke-opacity="0.3" stroke-width="0.5"/>
<rect x="583" y="45.60" width="28" height="4.05" fill="rgb(255, 150, 0)"/>
<line x1="583" y1="45.60" x2="611" y2="45.60" stroke="#fff" stroke-opacity="0.3" stroke-width="0.5"/>
<rect x="583" y="49.60" width="28" height="4.05" fill="rgb(255, 180, 0)"/>
<line x1="583" y1="49.60" x2="611" y2="49.60" stroke="#fff" stroke-opacity="0.3" stroke-width="0.5"/>
<rect x="583" y="53.60" width="28" height="3.45" fill="rgb(255, 205, 0)"/>
<line x1="583" y1="53.60" x2="611" y2="53.60" stroke="#fff" stroke-opacity="0.3" stroke-width="0.5"/>
<rect x="583" y="57.00" width="28" height="3.45" fill="rgb(255, 225, 0)"/>
<line x1="583" y1="57.00" x2="611" y2="57.00" stroke="#fff" stroke-opacity="0.3" stroke-width="0.5"/>
<rect x="583" y="60.40" width="28" height="3.35" fill="rgb(250, 245, 0)"/>
<line x1="583" y1="60.40" x2="611" y2="60.40" stroke="#fff" stroke-opacity="0.3" stroke-width="0.5"/>
<rect x="583" y="63.70" width="28" height="3.45" fill="rgb(225, 245, 0)"/>
<line x1="583" y1="63.70" x2="611" y2="63.70" stroke="#fff" stroke-opacity="0.3" stroke-width="0.5"/>
<rect x="583" y="67.10" width="28" height="2.95" fill="rgb(210, 245, 0)"/>
<line x1="583" y1="67.10" x2="611" y2="67.10" stroke="#fff" stroke-opacity="0.3" stroke-width="0.5"/>
<rect x="583" y="70.00" width="28" height="3.85" fill="rgb(190, 235, 0)"/>
<line x1="583" y1="70.00" x2="611" y2="70.00" stroke="#fff" stroke-opacity="0.3" stroke-width="0.5"/>
<rect x="583" y="73.80" width="28" height="3.25" fill="rgb(160, 230, 0)"/>
<line x1="583" y1="73.80" x2="611" y2="73.80" stroke="#fff" stroke-opacity="0.3" stroke-width="0.5"/>
<rect x="583" y="77.00" width="28" height="3.75" fill="rgb(120, 225, 0)"/>
<line x1="583" y1="77.00" x2="611" y2="77.00" stroke="#fff" stroke-opacity="0.3" stroke-width="0.5"/>
<rect x="583" y="80.70" width="28" height="3.65" fill="rgb(0, 230, 0)"/>
<line x1="583" y1="80.70" x2="611" y2="80.70" stroke="#fff" stroke-opacity="0.3" stroke-width="0.5"/>
<rect x="583" y="84.30" width="28" height="3.65" fill="rgb(0, 220, 80)"/>
<line x1="583" y1="84.30" x2="611" y2="84.30" stroke="#fff" stroke-opacity="0.3" stroke-width="0.5"/>
<rect x="583" y="87.90" width="28" height="3.75" fill="rgb(0, 220, 120)"/>
<line x1="583" y1="87.90" x2="611" y2="87.90" stroke="#fff" stroke-opacity="0.3" stroke-width="0.5"/>
<rect x="583" y="91.60" width="28" height="3.75" fill="rgb(0, 230, 150)"/>
<line x1="583" y1="91.60" x2="611" y2="91.60" stroke="#fff" stroke-opacity="0.3" stroke-width="0.5"/>
<rect x="583" y="95.30" width="28" height="3.65" fill="rgb(0, 230, 180)"/>
<line x1="583" y1="95.30" x2="611" y2="95.30" stroke="#fff" stroke-opacity="0.3" stroke-width="0.5"/>
<rect x="583" y="98.90" width="28" height="3.65" fill="rgb(0, 230, 210)"/>
<line x1="583" y1="98.90" x2="611" y2="98.90" stroke="#fff" stroke-opacity="0.3" stroke-width="0.5"/>
<rect x="583" y="102.50" width="28" height="3.75" fill="rgb(0, 235, 230)"/>
<line x1="583" y1="102.50" x2="611" y2="102.50" stroke="#fff" stroke-opacity="0.3" stroke-width="0.5"/>
<rect x="583" y="106.20" width="28" height="3.75" fill="rgb(0, 245, 255)"/>
<line x1="583" y1="106.20" x2="611" y2="106.20" stroke="#fff" stroke-opacity="0.3" stroke-width="0.5"/>
<rect x="583" y="109.90" width="28" height="3.65" fill="rgb(0, 220, 255)"/>
<line x1="583" y1="109.90" x2="611" y2="109.90" stroke="#fff" stroke-opacity="0.3" stroke-width="0.5"/>
<rect x="583" y="113.50" width="28" height="4.45" fill="rgb(0, 200, 255)"/>
<line x1="583" y1="113.50" x2="611" y2="113.50" stroke="#fff" stroke-opacity="0.3" stroke-width="0.5"/>
<rect x="583" y="117.90" width="28" height="3.65" fill="rgb(0, 170, 255)"/>
<line x1="583" y1="117.90" x2="611" y2="117.90" stroke="#fff" stroke-opacity="0.3" stroke-width="0.5"/>
<rect x="583" y="121.50" width="28" height="2.95" fill="rgb(0, 150, 255)"/>
<line x1="583" y1="121.50" x2="611" y2="121.50" stroke="#fff" stroke-opacity="0.3" stroke-width="0.5"/>
<rect x="583" y="124.40" width="28" height="3.65" fill="rgb(0, 130, 255)"/>
<line x1="583" y1="124.40" x2="611" y2="124.40" stroke="#fff" stroke-opacity="0.3" stroke-width="0.5"/>
<rect x="583" y="128.00" width="28" height="3.75" fill="rgb(0, 110, 255)"/>
<line x1="583" y1="128.00" x2="611" y2="128.00" stroke="#fff" stroke-opacity="0.3" stroke-width="0.5"/>
<rect x="583" y="131.70" width="28" height="4.05" fill="rgb(0, 80, 255)"/>
<line x1="583" y1="131.70" x2="611" y2="131.70" stroke="#fff" stroke-opacity="0.3" stroke-width="0.5"/>
<rect x="583" y="135.70" width="28" height="3.95" fill="rgb(0, 0, 230)"/>
<line x1="583" y1="135.70" x2="611" y2="135.70" stroke="#fff" stroke-opacity="0.3" stroke-width="0.5"/>
<rect x="583" y="139.60" width="28" height="3.85" fill="rgb(80, 0, 240)"/>
<line x1="583" y1="139.60" x2="611" y2="139.60" stroke="#fff" stroke-opacity="0.3" stroke-width="0.5"/>
<rect x="583" y="143.40" width="28" height="3.75" fill="rgb(110, 0, 240)"/>
<line x1="583" y1="143.40" x2="611" y2="143.40" stroke="#fff" stroke-opacity="0.3" stroke-width="0.5"/>
<rect x="583" y="147.10" width="28" height="3.65" fill="rgb(140, 0, 240)"/>
<line x1="583" y1="147.10" x2="611" y2="147.10" stroke="#fff" stroke-opacity="0.3" stroke-width="0.5"/>
<rect x="583" y="150.70" width="28" height="4.05" fill="rgb(160, 0, 240)"/>
<line x1="583" y1="150.70" x2="611" y2="150.70" stroke="#fff" stroke-opacity="0.3" stroke-width="0.5"/>
<rect x="583" y="154.70" width="28" height="3.75" fill="rgb(190, 0, 240)"/>
<line x1="583" y1="154.70" x2="611" y2="154.70" stroke="#fff" stroke-opacity="0.3" stroke-width="0.5"/>
<rect x="583" y="158.40" width="28" height="3.65" fill="rgb(210, 0, 240)"/>
<line x1="583" y1="158.40" x2="611" y2="158.40" stroke="#fff" stroke-opacity="0.3" stroke-width="0.5"/>
<rect x="583" y="162.00" width="28" height="3.65" fill="rgb(230, 0, 245)"/>
<line x1="583" y1="162.00" x2="611" y2="162.00" stroke="#fff" stroke-opacity="0.3" stroke-width="0.5"/>
<rect x="583" y="165.60" width="28" height="4.25" fill="rgb(255, 0, 240)"/>
<line x1="583" y1="165.60" x2="611" y2="165.60" stroke="#fff" stroke-opacity="0.3" stroke-width="0.5"/>
<text x="616.6" y="30.60" font-size="6" fill="#1a1a1a" stroke="#1a1a1a" stroke-width="0.12" textLength="16.6" lengthAdjust="spacingAndGlyphs">1.52e+21</text>
<text x="616.6" y="37.27" font-size="6" fill="#1a1a1a" stroke="#1a1a1a" stroke-width="0.12" textLength="16.6" lengthAdjust="spacingAndGlyphs">1.45e+21</text>
<text x="616.6" y="43.93" font-size="6" fill="#1a1a1a" stroke="#1a1a1a" stroke-width="0.12" textLength="16.6" lengthAdjust="spacingAndGlyphs">1.38e+21</text>
<text x="616.6" y="50.60" font-size="6" fill="#1a1a1a" stroke="#1a1a1a" stroke-width="0.12" textLength="14.6" lengthAdjust="spacingAndGlyphs">1.3e+21</text>
<text x="616.6" y="57.27" font-size="6" fill="#1a1a1a" stroke="#1a1a1a" stroke-width="0.12" textLength="16.6" lengthAdjust="spacingAndGlyphs">1.23e+21</text>
<text x="616.6" y="63.93" font-size="6" fill="#1a1a1a" stroke="#1a1a1a" stroke-width="0.12" textLength="16.6" lengthAdjust="spacingAndGlyphs">1.16e+21</text>
<text x="616.6" y="70.60" font-size="6" fill="#1a1a1a" stroke="#1a1a1a" stroke-width="0.12" textLength="16.6" lengthAdjust="spacingAndGlyphs">1.09e+21</text>
<text x="616.6" y="77.27" font-size="6" fill="#1a1a1a" stroke="#1a1a1a" stroke-width="0.12" textLength="16.6" lengthAdjust="spacingAndGlyphs">1.01e+21</text>
<text x="616.6" y="83.93" font-size="6" fill="#1a1a1a" stroke="#1a1a1a" stroke-width="0.12" textLength="16.6" lengthAdjust="spacingAndGlyphs">9.41e+20</text>
<text x="616.6" y="90.60" font-size="6" fill="#1a1a1a" stroke="#1a1a1a" stroke-width="0.12" textLength="16.6" lengthAdjust="spacingAndGlyphs">8.69e+20</text>
<text x="616.6" y="97.27" font-size="6" fill="#1a1a1a" stroke="#1a1a1a" stroke-width="0.12" textLength="16.6" lengthAdjust="spacingAndGlyphs">7.96e+20</text>
<text x="616.6" y="103.93" font-size="6" fill="#1a1a1a" stroke="#1a1a1a" stroke-width="0.12" textLength="16.6" lengthAdjust="spacingAndGlyphs">7.24e+20</text>
<text x="616.6" y="110.60" font-size="6" fill="#1a1a1a" stroke="#1a1a1a" stroke-width="0.12" textLength="16.6" lengthAdjust="spacingAndGlyphs">6.51e+20</text>
<text x="616.6" y="117.27" font-size="6" fill="#1a1a1a" stroke="#1a1a1a" stroke-width="0.12" textLength="16.6" lengthAdjust="spacingAndGlyphs">5.79e+20</text>
<text x="616.6" y="123.93" font-size="6" fill="#1a1a1a" stroke="#1a1a1a" stroke-width="0.12" textLength="16.6" lengthAdjust="spacingAndGlyphs">5.07e+20</text>
<text x="616.6" y="130.60" font-size="6" fill="#1a1a1a" stroke="#1a1a1a" stroke-width="0.12" textLength="16.6" lengthAdjust="spacingAndGlyphs">4.34e+20</text>
<text x="616.6" y="137.27" font-size="6" fill="#1a1a1a" stroke="#1a1a1a" stroke-width="0.12" textLength="16.6" lengthAdjust="spacingAndGlyphs">3.62e+20</text>
<text x="616.6" y="143.93" font-size="6" fill="#1a1a1a" stroke="#1a1a1a" stroke-width="0.12" textLength="14.6" lengthAdjust="spacingAndGlyphs">2.9e+20</text>
<text x="616.6" y="150.60" font-size="6" fill="#1a1a1a" stroke="#1a1a1a" stroke-width="0.12" textLength="16.6" lengthAdjust="spacingAndGlyphs">2.17e+20</text>
<text x="616.6" y="157.27" font-size="6" fill="#1a1a1a" stroke="#1a1a1a" stroke-width="0.12" textLength="16.6" lengthAdjust="spacingAndGlyphs">1.45e+20</text>
<text x="616.6" y="163.93" font-size="6" fill="#1a1a1a" stroke="#1a1a1a" stroke-width="0.12" textLength="16.6" lengthAdjust="spacingAndGlyphs">7.24e+19</text>
<text x="616.6" y="170.60" font-size="6" fill="#1a1a1a" stroke="#1a1a1a" stroke-width="0.12" textLength="2.6" lengthAdjust="spacingAndGlyphs">0</text>
<text x="582.6" y="9.4" font-size="5" fill="#1a1a1a" stroke="#1a1a1a" stroke-width="0.08" textLength="54" lengthAdjust="spacingAndGlyphs">Recombination Rate (cm3/s)</text>
</g>
<g id="band">
<text class="b" x="11" y="192.5" font-size="16.5" fill="#111">(b)</text>
<path d="M59.8,332 L59.8,167.4 L51.7,167.4 L67,137.2 L82.1,167.4 L74.8,167.4 L74.8,332 Z" fill="url(#gE)"/>
<text class="b" transform="translate(70.6,239) rotate(-90)" x="0" y="0" font-size="13.2" fill="#111" text-anchor="middle">E (eV)</text>
<rect x="105" y="243" width="88.5" height="88" fill="url(#gSn)"/>
<line x1="104.5" y1="243.2" x2="193.5" y2="243.2" stroke="#000" stroke-width="1.4"/>
<line x1="104.5" y1="330.8" x2="193.5" y2="330.8" stroke="#000" stroke-width="1.4"/>
<rect x="193.6" y="213.4" width="87.6" height="54" fill="url(#gCs)"/>
<line x1="193.3" y1="213.4" x2="281.3" y2="213.4" stroke="#000" stroke-width="1.4"/>
<line x1="193.3" y1="267.4" x2="281.3" y2="267.4" stroke="#000" stroke-width="1.4"/>
<rect x="134.0" y="255" width="3.2" height="71.60000000000002" fill="#7030a0"/>
<polygon points="130.9,257 135.6,249 140.29999999999998,257" fill="#7030a0"/>
<rect x="221.9" y="223.5" width="3.2" height="40.5" fill="#7030a0"/>
<polygon points="218.8,225.5 223.5,217.5 228.2,225.5" fill="#7030a0"/>
<circle cx="133.8" cy="235.6" r="6.4" fill="url(#gEl)"/>
<text class="b" x="134.20000000000002" y="238.2" font-size="8.3" fill="#1a1a1a" text-anchor="middle">e</text>
<circle cx="169.5" cy="235.5" r="6.4" fill="url(#gEl)"/>
<text class="b" x="169.9" y="238.1" font-size="8.3" fill="#1a1a1a" text-anchor="middle">e</text>
<circle cx="152" cy="256.8" r="6.4" fill="url(#gEl)"/>
<text class="b" x="152.4" y="259.40000000000003" font-size="8.3" fill="#1a1a1a" text-anchor="middle">e</text>
<circle cx="216.8" cy="206.2" r="6.4" fill="url(#gEl)"/>
<text class="b" x="217.20000000000002" y="208.79999999999998" font-size="8.3" fill="#1a1a1a" text-anchor="middle">e</text>
<circle cx="233" cy="206.2" r="6.4" fill="url(#gEl)"/>
<text class="b" x="233.4" y="208.79999999999998" font-size="8.3" fill="#1a1a1a" text-anchor="middle">e</text>
<circle cx="249.2" cy="206.3" r="6.4" fill="url(#gEl)"/>
<text class="b" x="249.6" y="208.9" font-size="8.3" fill="#1a1a1a" text-anchor="middle">e</text>
<circle cx="217.3" cy="274.7" r="6.1" fill="url(#gHo)"/>
<text class="b" x="217.60000000000002" y="277.3" font-size="8" fill="#3a2600" text-anchor="middle">h</text>
<circle cx="233.5" cy="274.7" r="6.1" fill="url(#gHo)"/>
<text class="b" x="233.8" y="277.3" font-size="8" fill="#3a2600" text-anchor="middle">h</text>
<circle cx="249.6" cy="274.7" r="6.1" fill="url(#gHo)"/>
<text class="b" x="249.9" y="277.3" font-size="8" fill="#3a2600" text-anchor="middle">h</text>
<circle cx="139.1" cy="339.1" r="6.1" fill="url(#gHo)"/>
<text class="b" x="139.4" y="341.70000000000005" font-size="8" fill="#3a2600" text-anchor="middle">h</text>
<circle cx="154.3" cy="339.1" r="6.1" fill="url(#gHo)"/>
<text class="b" x="154.60000000000002" y="341.70000000000005" font-size="8" fill="#3a2600" text-anchor="middle">h</text>
<circle cx="169.9" cy="339.1" r="6.1" fill="url(#gHo)"/>
<text class="b" x="170.20000000000002" y="341.70000000000005" font-size="8" fill="#3a2600" text-anchor="middle">h</text>
<line x1="123.3" y1="235.5" x2="98" y2="235.5" stroke="#000" stroke-width="1.4"/>
<polygon points="94.4,235.5 100,232.6 99,235.5 100,238.4" fill="#000"/>
<line x1="161" y1="235.5" x2="145.5" y2="235.5" stroke="#000" stroke-width="1.4"/>
<polygon points="142.2,235.5 147.8,232.6 146.8,235.5 147.8,238.4" fill="#000"/>
<line x1="260.7" y1="274.2" x2="286" y2="274.2" stroke="#000" stroke-width="1.4"/>
<polygon points="289.6,274.2 284,271.3 285,274.2 284,277.1" fill="#000"/>
<line x1="165.7" y1="244.1" x2="160.4" y2="251.5" stroke="#e8201c" stroke-width="1.2"/>
<polygon points="158.6,254 158.9,248.6 160.9,250.6 163.5,249.9" fill="#e8201c"/>
<line x1="141.1" y1="263.2" x2="165" y2="263.2" stroke="#000" stroke-width="1.4" stroke-dasharray="3.6 2.2"/>
<path d="M227,189 C223,176 218,172 213.5,173.2 C203,175 185,195 166,213.5" fill="none" stroke="#000" stroke-width="1.3"/>
<polyline points="165.6,208.4 164.4,215 170.8,213.6" fill="none" stroke="#000" stroke-width="1.3"/>
<path d="M176.2,348.3 C183,355 189,361 196,360 C206,358 222,332 232.3,317" fill="none" stroke="#000" stroke-width="1.3"/>
<polygon points="234,314.8 228.8,318.2 232.6,320.6" fill="#000"/>
<text class="b" x="103.8" y="218.1" font-size="11" fill="#111">-4.53 eV</text>
<text class="b" x="248.1" y="190.7" font-size="11" fill="#111">-3.3 eV</text>
<text class="b" x="142.9" y="295.4" font-size="11.3" fill="#111">3.6 eV</text>
<text class="b" x="233" y="244.8" font-size="11.3" fill="#111">2.3 eV</text>
<text class="b" x="219.2" y="298.8" font-size="11.1" fill="#111">CsPbBr<tspan font-size="7" dy="2.6">3</tspan></text>
<text class="b" x="135.6" y="368.4" font-size="11.1" fill="#111">SnO<tspan font-size="7" dy="2.6">2</tspan></text>
</g>
<g id="graph">
<text class="b" x="341.8" y="191.6" font-size="16.4" fill="#111">(g)</text>
<clipPath id="plotclip"><rect x="419.5" y="210" width="212.5" height="120"/></clipPath>
<g clip-path="url(#plotclip)">
<polyline points="419.5,323.8 473.5,323.8 536,229.8 564,225 632,226.2" fill="none" stroke="#000000" stroke-width="2" stroke-linejoin="round"/>
<polyline points="419.5,323.8 473.5,323.8 535.5,229 564,224.8 632,226" fill="none" stroke="#008080" stroke-width="2" stroke-linejoin="round"/>
<polyline points="419.5,323.8 474,323.8 536.5,229.5 564,224.9 632,226" fill="none" stroke="#007a00" stroke-width="2" stroke-linejoin="round"/>
<polyline points="419.5,323.8 473.5,323.8 506,266.5 534.5,225.5 564,224.3 632,224.6" fill="none" stroke="#ff0000" stroke-width="2" stroke-linejoin="round"/>
<polyline points="419.5,323.8 473.5,323.8 503.5,254.3 534.2,222.2 564,221.4 632,223.1" fill="none" stroke="#0000ff" stroke-width="2" stroke-linejoin="round"/>
<polyline points="419.5,323.8 473.5,323.8 504.2,258.5 534.3,223.3 564,222.6 632,222.9" fill="none" stroke="#8a00ff" stroke-width="2" stroke-linejoin="round"/>
</g>
<rect x="419.3" y="209.7" width="213" height="121" fill="none" stroke="#000" stroke-width="1.8"/>
<line x1="419.3" y1="289.8" x2="423.8" y2="289.8" stroke="#000" stroke-width="1.5"/>
<line x1="419.3" y1="255.8" x2="423.8" y2="255.8" stroke="#000" stroke-width="1.5"/>
<line x1="419.3" y1="221.8" x2="423.8" y2="221.8" stroke="#000" stroke-width="1.5"/>
<text class="b" x="413.6" y="226.4" font-size="9.6" fill="#111" text-anchor="end">1.5×10<tspan font-size="6.8" dy="-4">21</tspan></text>
<text class="b" x="413.6" y="260.4" font-size="9.6" fill="#111" text-anchor="end">1.0×10<tspan font-size="6.8" dy="-4">21</tspan></text>
<text class="b" x="413.6" y="294.4" font-size="9.6" fill="#111" text-anchor="end">5.0×10<tspan font-size="6.8" dy="-4">20</tspan></text>
<text class="b" x="413.4" y="327.1" font-size="9.6" fill="#111" text-anchor="end">0.0</text>
<line x1="434.5" y1="330.5" x2="434.5" y2="335.3" stroke="#000" stroke-width="1.5"/>
<text class="b" x="434.5" y="346.8" font-size="9.3" fill="#111" text-anchor="middle">0.34</text>
<line x1="464.9" y1="330.5" x2="464.9" y2="335.3" stroke="#000" stroke-width="1.5"/>
<text class="b" x="464.9" y="346.8" font-size="9.3" fill="#111" text-anchor="middle">0.35</text>
<line x1="495.4" y1="330.5" x2="495.4" y2="335.3" stroke="#000" stroke-width="1.5"/>
<text class="b" x="495.4" y="346.8" font-size="9.3" fill="#111" text-anchor="middle">0.36</text>
<line x1="525.9" y1="330.5" x2="525.9" y2="335.3" stroke="#000" stroke-width="1.5"/>
<text class="b" x="525.9" y="346.8" font-size="9.3" fill="#111" text-anchor="middle">0.37</text>
<line x1="556.3" y1="330.5" x2="556.3" y2="335.3" stroke="#000" stroke-width="1.5"/>
<text class="b" x="556.3" y="346.8" font-size="9.3" fill="#111" text-anchor="middle">0.38</text>
<line x1="586.8" y1="330.5" x2="586.8" y2="335.3" stroke="#000" stroke-width="1.5"/>
<text class="b" x="586.8" y="346.8" font-size="9.3" fill="#111" text-anchor="middle">0.39</text>
<line x1="617.2" y1="330.5" x2="617.2" y2="335.3" stroke="#000" stroke-width="1.5"/>
<text class="b" x="617.2" y="346.8" font-size="9.3" fill="#111" text-anchor="middle">0.40</text>
<text class="b" x="515.5" y="359.2" font-size="8.9" fill="#111" text-anchor="middle">Distance (μm)</text>
<text class="b" transform="translate(376.6,274.8) rotate(-90)" x="0" y="0" font-size="10.8" fill="#111" text-anchor="middle">Recombination Rate (cm<tspan font-size="7.5" dy="-4">3</tspan><tspan dy="4">s)</tspan></text>
<line x1="436.3" y1="219.5" x2="445.5" y2="219.5" stroke="#000000" stroke-width="1.3"/>
<text class="b" x="451" y="221.8" font-size="8.5" fill="#111">CS-T0</text>
<line x1="436.3" y1="229.1" x2="445.5" y2="229.1" stroke="#ff0000" stroke-width="1.3"/>
<text class="b" x="451" y="231.4" font-size="8.5" fill="#111">CS-T300</text>
<line x1="436.3" y1="238.7" x2="445.5" y2="238.7" stroke="#2020ff" stroke-width="1.3"/>
<text class="b" x="451" y="241.0" font-size="8.5" fill="#111">CS-T400</text>
<line x1="436.3" y1="248.4" x2="445.5" y2="248.4" stroke="#008080" stroke-width="1.3"/>
<text class="b" x="451" y="250.7" font-size="8.5" fill="#111">CS-T500</text>
<line x1="436.3" y1="258.0" x2="445.5" y2="258.0" stroke="#8a2be2" stroke-width="1.3"/>
<text class="b" x="451" y="260.3" font-size="8.5" fill="#111">CS-T600</text>
</g>
</svg></body></html>
